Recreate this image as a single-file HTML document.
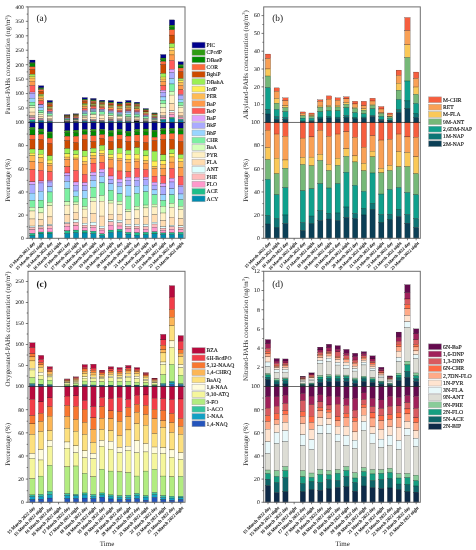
<!DOCTYPE html>
<html><head><meta charset="utf-8"><title>PAHs figure</title>
<style>html,body{margin:0;padding:0;background:#fff}svg{display:block;text-rendering:geometricPrecision}</style></head>
<body>
<svg width="476" height="550" viewBox="0 0 476 550" font-family='"Liberation Serif", serif'>
<rect width="476" height="550" fill="#fff"/>
<g stroke="#000" stroke-width="0.2">
<rect x="29.75" y="122.45" width="5.3" height="4.97" fill="#00008c"/>
<rect x="29.75" y="127.42" width="5.3" height="2.08" fill="#2e9c12"/>
<rect x="29.75" y="129.5" width="5.3" height="5.43" fill="#008a00"/>
<rect x="29.75" y="134.94" width="5.3" height="4.74" fill="#ff6a3a"/>
<rect x="29.75" y="139.68" width="5.3" height="9.37" fill="#cc4a00"/>
<rect x="29.75" y="149.04" width="5.3" height="4.05" fill="#9bef55"/>
<rect x="29.75" y="153.09" width="5.3" height="2.77" fill="#ffee55"/>
<rect x="29.75" y="155.86" width="5.3" height="6.01" fill="#ffbb55"/>
<rect x="29.75" y="161.88" width="5.3" height="7.98" fill="#ff9a4a"/>
<rect x="29.75" y="169.85" width="5.3" height="12.02" fill="#ff5a5a"/>
<rect x="29.75" y="181.88" width="5.3" height="2.66" fill="#dda5ff"/>
<rect x="29.75" y="184.54" width="5.3" height="8.56" fill="#aaaaff"/>
<rect x="29.75" y="193.09" width="5.3" height="7.4" fill="#99d5ff"/>
<rect x="29.75" y="200.49" width="5.3" height="6.82" fill="#7cf0a2"/>
<rect x="29.75" y="207.31" width="5.3" height="3.7" fill="#d5ffbb"/>
<rect x="29.75" y="211.01" width="5.3" height="7.98" fill="#fff0c4"/>
<rect x="29.75" y="218.99" width="5.3" height="7.05" fill="#ffdcb0"/>
<rect x="29.75" y="226.04" width="5.3" height="1.39" fill="#ddffff"/>
<rect x="29.75" y="227.43" width="5.3" height="2.31" fill="#ffbbbb"/>
<rect x="29.75" y="229.74" width="5.3" height="3.7" fill="#ff99cc"/>
<rect x="29.75" y="233.44" width="5.3" height="2.31" fill="#1fbe8a"/>
<rect x="29.75" y="235.76" width="5.3" height="2.54" fill="#008cb0"/>
<rect x="29.75" y="60.05" width="5.3" height="2.68" fill="#00008c"/>
<rect x="29.75" y="62.73" width="5.3" height="1.12" fill="#2e9c12"/>
<rect x="29.75" y="63.85" width="5.3" height="2.93" fill="#008a00"/>
<rect x="29.75" y="66.78" width="5.3" height="2.55" fill="#ff6a3a"/>
<rect x="29.75" y="69.33" width="5.3" height="5.04" fill="#cc4a00"/>
<rect x="29.75" y="74.38" width="5.3" height="2.18" fill="#9bef55"/>
<rect x="29.75" y="76.56" width="5.3" height="1.49" fill="#ffee55"/>
<rect x="29.75" y="78.05" width="5.3" height="3.24" fill="#ffbb55"/>
<rect x="29.75" y="81.29" width="5.3" height="4.3" fill="#ff9a4a"/>
<rect x="29.75" y="85.58" width="5.3" height="6.48" fill="#ff5a5a"/>
<rect x="29.75" y="92.06" width="5.3" height="1.43" fill="#dda5ff"/>
<rect x="29.75" y="93.49" width="5.3" height="4.61" fill="#aaaaff"/>
<rect x="29.75" y="98.1" width="5.3" height="3.99" fill="#99d5ff"/>
<rect x="29.75" y="102.09" width="5.3" height="3.67" fill="#7cf0a2"/>
<rect x="29.75" y="105.76" width="5.3" height="1.99" fill="#d5ffbb"/>
<rect x="29.75" y="107.75" width="5.3" height="4.3" fill="#fff0c4"/>
<rect x="29.75" y="112.05" width="5.3" height="3.8" fill="#ffdcb0"/>
<rect x="29.75" y="115.85" width="5.3" height="0.75" fill="#ddffff"/>
<rect x="29.75" y="116.6" width="5.3" height="1.25" fill="#ffbbbb"/>
<rect x="29.75" y="117.84" width="5.3" height="1.99" fill="#ff99cc"/>
<rect x="29.75" y="119.83" width="5.3" height="1.25" fill="#1fbe8a"/>
<rect x="29.75" y="121.08" width="5.3" height="1.37" fill="#008cb0"/>
<rect x="38.48" y="122.45" width="5.3" height="6.48" fill="#00008c"/>
<rect x="38.48" y="128.93" width="5.3" height="2.66" fill="#2e9c12"/>
<rect x="38.48" y="131.59" width="5.3" height="2.78" fill="#008a00"/>
<rect x="38.48" y="134.37" width="5.3" height="5.21" fill="#ff6a3a"/>
<rect x="38.48" y="139.58" width="5.3" height="10.18" fill="#cc4a00"/>
<rect x="38.48" y="149.76" width="5.3" height="4.51" fill="#9bef55"/>
<rect x="38.48" y="154.28" width="5.3" height="3.59" fill="#ffee55"/>
<rect x="38.48" y="157.86" width="5.3" height="4.75" fill="#ffbb55"/>
<rect x="38.48" y="162.61" width="5.3" height="7.75" fill="#ff9a4a"/>
<rect x="38.48" y="170.36" width="5.3" height="10.65" fill="#ff5a5a"/>
<rect x="38.48" y="181.01" width="5.3" height="1.97" fill="#dda5ff"/>
<rect x="38.48" y="182.98" width="5.3" height="8.33" fill="#aaaaff"/>
<rect x="38.48" y="191.31" width="5.3" height="8.8" fill="#99d5ff"/>
<rect x="38.48" y="200.11" width="5.3" height="7.75" fill="#7cf0a2"/>
<rect x="38.48" y="207.86" width="5.3" height="5.09" fill="#d5ffbb"/>
<rect x="38.48" y="212.95" width="5.3" height="6.83" fill="#fff0c4"/>
<rect x="38.48" y="219.78" width="5.3" height="6.02" fill="#ffdcb0"/>
<rect x="38.48" y="225.8" width="5.3" height="1.16" fill="#ddffff"/>
<rect x="38.48" y="226.96" width="5.3" height="1.97" fill="#ffbbbb"/>
<rect x="38.48" y="228.93" width="5.3" height="3.12" fill="#ff99cc"/>
<rect x="38.48" y="232.05" width="5.3" height="1.85" fill="#1fbe8a"/>
<rect x="38.48" y="233.9" width="5.3" height="4.4" fill="#008cb0"/>
<rect x="38.48" y="85.76" width="5.3" height="2.05" fill="#00008c"/>
<rect x="38.48" y="87.82" width="5.3" height="0.84" fill="#2e9c12"/>
<rect x="38.48" y="88.66" width="5.3" height="0.88" fill="#008a00"/>
<rect x="38.48" y="89.54" width="5.3" height="1.65" fill="#ff6a3a"/>
<rect x="38.48" y="91.19" width="5.3" height="3.23" fill="#cc4a00"/>
<rect x="38.48" y="94.41" width="5.3" height="1.43" fill="#9bef55"/>
<rect x="38.48" y="95.84" width="5.3" height="1.14" fill="#ffee55"/>
<rect x="38.48" y="96.98" width="5.3" height="1.5" fill="#ffbb55"/>
<rect x="38.48" y="98.48" width="5.3" height="2.46" fill="#ff9a4a"/>
<rect x="38.48" y="100.94" width="5.3" height="3.37" fill="#ff5a5a"/>
<rect x="38.48" y="104.31" width="5.3" height="0.62" fill="#dda5ff"/>
<rect x="38.48" y="104.93" width="5.3" height="2.64" fill="#aaaaff"/>
<rect x="38.48" y="107.57" width="5.3" height="2.79" fill="#99d5ff"/>
<rect x="38.48" y="110.36" width="5.3" height="2.46" fill="#7cf0a2"/>
<rect x="38.48" y="112.81" width="5.3" height="1.61" fill="#d5ffbb"/>
<rect x="38.48" y="114.42" width="5.3" height="2.16" fill="#fff0c4"/>
<rect x="38.48" y="116.59" width="5.3" height="1.91" fill="#ffdcb0"/>
<rect x="38.48" y="118.49" width="5.3" height="0.37" fill="#ddffff"/>
<rect x="38.48" y="118.86" width="5.3" height="0.62" fill="#ffbbbb"/>
<rect x="38.48" y="119.48" width="5.3" height="0.99" fill="#ff99cc"/>
<rect x="38.48" y="120.47" width="5.3" height="0.59" fill="#1fbe8a"/>
<rect x="38.48" y="121.06" width="5.3" height="1.39" fill="#008cb0"/>
<rect x="47.2" y="122.45" width="5.3" height="9.4" fill="#00008c"/>
<rect x="47.2" y="131.85" width="5.3" height="2.09" fill="#2e9c12"/>
<rect x="47.2" y="133.94" width="5.3" height="4.18" fill="#008a00"/>
<rect x="47.2" y="138.12" width="5.3" height="5.69" fill="#ff6a3a"/>
<rect x="47.2" y="143.81" width="5.3" height="11.96" fill="#cc4a00"/>
<rect x="47.2" y="155.77" width="5.3" height="4.3" fill="#9bef55"/>
<rect x="47.2" y="160.06" width="5.3" height="3.83" fill="#ffee55"/>
<rect x="47.2" y="163.89" width="5.3" height="1.51" fill="#ffbb55"/>
<rect x="47.2" y="165.4" width="5.3" height="6.5" fill="#ff9a4a"/>
<rect x="47.2" y="171.9" width="5.3" height="8.71" fill="#ff5a5a"/>
<rect x="47.2" y="180.61" width="5.3" height="1.39" fill="#dda5ff"/>
<rect x="47.2" y="182" width="5.3" height="4.88" fill="#aaaaff"/>
<rect x="47.2" y="186.88" width="5.3" height="5.11" fill="#99d5ff"/>
<rect x="47.2" y="191.98" width="5.3" height="10.22" fill="#7cf0a2"/>
<rect x="47.2" y="202.2" width="5.3" height="3.6" fill="#d5ffbb"/>
<rect x="47.2" y="205.8" width="5.3" height="11.14" fill="#fff0c4"/>
<rect x="47.2" y="216.94" width="5.3" height="7.43" fill="#ffdcb0"/>
<rect x="47.2" y="224.37" width="5.3" height="1.51" fill="#ddffff"/>
<rect x="47.2" y="225.88" width="5.3" height="2.32" fill="#ffbbbb"/>
<rect x="47.2" y="228.2" width="5.3" height="3.83" fill="#ff99cc"/>
<rect x="47.2" y="232.03" width="5.3" height="1.86" fill="#1fbe8a"/>
<rect x="47.2" y="233.89" width="5.3" height="4.41" fill="#008cb0"/>
<rect x="47.2" y="100.5" width="5.3" height="1.78" fill="#00008c"/>
<rect x="47.2" y="102.28" width="5.3" height="0.4" fill="#2e9c12"/>
<rect x="47.2" y="102.67" width="5.3" height="0.79" fill="#008a00"/>
<rect x="47.2" y="103.47" width="5.3" height="1.08" fill="#ff6a3a"/>
<rect x="47.2" y="104.54" width="5.3" height="2.27" fill="#cc4a00"/>
<rect x="47.2" y="106.81" width="5.3" height="0.81" fill="#9bef55"/>
<rect x="47.2" y="107.62" width="5.3" height="0.73" fill="#ffee55"/>
<rect x="47.2" y="108.35" width="5.3" height="0.29" fill="#ffbb55"/>
<rect x="47.2" y="108.63" width="5.3" height="1.23" fill="#ff9a4a"/>
<rect x="47.2" y="109.87" width="5.3" height="1.65" fill="#ff5a5a"/>
<rect x="47.2" y="111.52" width="5.3" height="0.26" fill="#dda5ff"/>
<rect x="47.2" y="111.78" width="5.3" height="0.92" fill="#aaaaff"/>
<rect x="47.2" y="112.7" width="5.3" height="0.97" fill="#99d5ff"/>
<rect x="47.2" y="113.67" width="5.3" height="1.94" fill="#7cf0a2"/>
<rect x="47.2" y="115.61" width="5.3" height="0.68" fill="#d5ffbb"/>
<rect x="47.2" y="116.29" width="5.3" height="2.11" fill="#fff0c4"/>
<rect x="47.2" y="118.4" width="5.3" height="1.41" fill="#ffdcb0"/>
<rect x="47.2" y="119.81" width="5.3" height="0.29" fill="#ddffff"/>
<rect x="47.2" y="120.1" width="5.3" height="0.44" fill="#ffbbbb"/>
<rect x="47.2" y="120.54" width="5.3" height="0.73" fill="#ff99cc"/>
<rect x="47.2" y="121.26" width="5.3" height="0.35" fill="#1fbe8a"/>
<rect x="47.2" y="121.61" width="5.3" height="0.84" fill="#008cb0"/>
<rect x="64.65" y="122.45" width="5.3" height="8.22" fill="#00008c"/>
<rect x="64.65" y="130.67" width="5.3" height="2.08" fill="#2e9c12"/>
<rect x="64.65" y="132.75" width="5.3" height="3.59" fill="#008a00"/>
<rect x="64.65" y="136.34" width="5.3" height="4.28" fill="#ff6a3a"/>
<rect x="64.65" y="140.62" width="5.3" height="7.99" fill="#cc4a00"/>
<rect x="64.65" y="148.61" width="5.3" height="5.32" fill="#9bef55"/>
<rect x="64.65" y="153.93" width="5.3" height="3.12" fill="#ffee55"/>
<rect x="64.65" y="157.05" width="5.3" height="2.66" fill="#ffbb55"/>
<rect x="64.65" y="159.72" width="5.3" height="7.18" fill="#ff9a4a"/>
<rect x="64.65" y="166.89" width="5.3" height="6.13" fill="#ff5a5a"/>
<rect x="64.65" y="173.03" width="5.3" height="2.89" fill="#dda5ff"/>
<rect x="64.65" y="175.92" width="5.3" height="5.67" fill="#aaaaff"/>
<rect x="64.65" y="181.59" width="5.3" height="7.06" fill="#99d5ff"/>
<rect x="64.65" y="188.65" width="5.3" height="13.08" fill="#7cf0a2"/>
<rect x="64.65" y="201.73" width="5.3" height="3.36" fill="#d5ffbb"/>
<rect x="64.65" y="205.08" width="5.3" height="9.72" fill="#fff0c4"/>
<rect x="64.65" y="214.81" width="5.3" height="7.41" fill="#ffdcb0"/>
<rect x="64.65" y="222.21" width="5.3" height="1.39" fill="#ddffff"/>
<rect x="64.65" y="223.6" width="5.3" height="2.55" fill="#ffbbbb"/>
<rect x="64.65" y="226.15" width="5.3" height="4.75" fill="#ff99cc"/>
<rect x="64.65" y="230.89" width="5.3" height="2.66" fill="#1fbe8a"/>
<rect x="64.65" y="233.55" width="5.3" height="4.75" fill="#008cb0"/>
<rect x="64.65" y="114.65" width="5.3" height="0.55" fill="#00008c"/>
<rect x="64.65" y="115.2" width="5.3" height="0.14" fill="#2e9c12"/>
<rect x="64.65" y="115.34" width="5.3" height="0.24" fill="#008a00"/>
<rect x="64.65" y="115.59" width="5.3" height="0.29" fill="#ff6a3a"/>
<rect x="64.65" y="115.87" width="5.3" height="0.54" fill="#cc4a00"/>
<rect x="64.65" y="116.41" width="5.3" height="0.36" fill="#9bef55"/>
<rect x="64.65" y="116.77" width="5.3" height="0.21" fill="#ffee55"/>
<rect x="64.65" y="116.98" width="5.3" height="0.18" fill="#ffbb55"/>
<rect x="64.65" y="117.16" width="5.3" height="0.48" fill="#ff9a4a"/>
<rect x="64.65" y="117.64" width="5.3" height="0.41" fill="#ff5a5a"/>
<rect x="64.65" y="118.06" width="5.3" height="0.19" fill="#dda5ff"/>
<rect x="64.65" y="118.25" width="5.3" height="0.38" fill="#aaaaff"/>
<rect x="64.65" y="118.63" width="5.3" height="0.48" fill="#99d5ff"/>
<rect x="64.65" y="119.11" width="5.3" height="0.88" fill="#7cf0a2"/>
<rect x="64.65" y="119.99" width="5.3" height="0.23" fill="#d5ffbb"/>
<rect x="64.65" y="120.21" width="5.3" height="0.65" fill="#fff0c4"/>
<rect x="64.65" y="120.87" width="5.3" height="0.5" fill="#ffdcb0"/>
<rect x="64.65" y="121.37" width="5.3" height="0.09" fill="#ddffff"/>
<rect x="64.65" y="121.46" width="5.3" height="0.17" fill="#ffbbbb"/>
<rect x="64.65" y="121.63" width="5.3" height="0.32" fill="#ff99cc"/>
<rect x="64.65" y="121.95" width="5.3" height="0.18" fill="#1fbe8a"/>
<rect x="64.65" y="122.13" width="5.3" height="0.32" fill="#008cb0"/>
<rect x="73.38" y="122.45" width="5.3" height="7.65" fill="#00008c"/>
<rect x="73.38" y="130.1" width="5.3" height="2.66" fill="#2e9c12"/>
<rect x="73.38" y="132.76" width="5.3" height="3.59" fill="#008a00"/>
<rect x="73.38" y="136.35" width="5.3" height="6.26" fill="#ff6a3a"/>
<rect x="73.38" y="142.61" width="5.3" height="7.65" fill="#cc4a00"/>
<rect x="73.38" y="150.25" width="5.3" height="4.52" fill="#9bef55"/>
<rect x="73.38" y="154.77" width="5.3" height="3.24" fill="#ffee55"/>
<rect x="73.38" y="158.02" width="5.3" height="1.39" fill="#ffbb55"/>
<rect x="73.38" y="159.41" width="5.3" height="11.12" fill="#ff9a4a"/>
<rect x="73.38" y="170.53" width="5.3" height="11.47" fill="#ff5a5a"/>
<rect x="73.38" y="182" width="5.3" height="3.13" fill="#dda5ff"/>
<rect x="73.38" y="185.12" width="5.3" height="5.91" fill="#aaaaff"/>
<rect x="73.38" y="191.03" width="5.3" height="5.33" fill="#99d5ff"/>
<rect x="73.38" y="196.36" width="5.3" height="5.68" fill="#7cf0a2"/>
<rect x="73.38" y="202.04" width="5.3" height="2.66" fill="#d5ffbb"/>
<rect x="73.38" y="204.7" width="5.3" height="7.76" fill="#fff0c4"/>
<rect x="73.38" y="212.47" width="5.3" height="7.41" fill="#ffdcb0"/>
<rect x="73.38" y="219.88" width="5.3" height="2.55" fill="#ddffff"/>
<rect x="73.38" y="222.43" width="5.3" height="3.48" fill="#ffbbbb"/>
<rect x="73.38" y="225.9" width="5.3" height="4.17" fill="#ff99cc"/>
<rect x="73.38" y="230.07" width="5.3" height="2.66" fill="#1fbe8a"/>
<rect x="73.38" y="232.74" width="5.3" height="5.56" fill="#008cb0"/>
<rect x="73.38" y="113.78" width="5.3" height="0.57" fill="#00008c"/>
<rect x="73.38" y="114.36" width="5.3" height="0.2" fill="#2e9c12"/>
<rect x="73.38" y="114.56" width="5.3" height="0.27" fill="#008a00"/>
<rect x="73.38" y="114.82" width="5.3" height="0.47" fill="#ff6a3a"/>
<rect x="73.38" y="115.29" width="5.3" height="0.57" fill="#cc4a00"/>
<rect x="73.38" y="115.86" width="5.3" height="0.34" fill="#9bef55"/>
<rect x="73.38" y="116.2" width="5.3" height="0.24" fill="#ffee55"/>
<rect x="73.38" y="116.44" width="5.3" height="0.1" fill="#ffbb55"/>
<rect x="73.38" y="116.55" width="5.3" height="0.83" fill="#ff9a4a"/>
<rect x="73.38" y="117.38" width="5.3" height="0.86" fill="#ff5a5a"/>
<rect x="73.38" y="118.24" width="5.3" height="0.23" fill="#dda5ff"/>
<rect x="73.38" y="118.47" width="5.3" height="0.44" fill="#aaaaff"/>
<rect x="73.38" y="118.91" width="5.3" height="0.4" fill="#99d5ff"/>
<rect x="73.38" y="119.31" width="5.3" height="0.42" fill="#7cf0a2"/>
<rect x="73.38" y="119.74" width="5.3" height="0.2" fill="#d5ffbb"/>
<rect x="73.38" y="119.94" width="5.3" height="0.58" fill="#fff0c4"/>
<rect x="73.38" y="120.52" width="5.3" height="0.55" fill="#ffdcb0"/>
<rect x="73.38" y="121.07" width="5.3" height="0.19" fill="#ddffff"/>
<rect x="73.38" y="121.26" width="5.3" height="0.26" fill="#ffbbbb"/>
<rect x="73.38" y="121.52" width="5.3" height="0.31" fill="#ff99cc"/>
<rect x="73.38" y="121.83" width="5.3" height="0.2" fill="#1fbe8a"/>
<rect x="73.38" y="122.03" width="5.3" height="0.42" fill="#008cb0"/>
<rect x="82.11" y="122.45" width="5.3" height="7.07" fill="#00008c"/>
<rect x="82.11" y="129.52" width="5.3" height="1.74" fill="#2e9c12"/>
<rect x="82.11" y="131.26" width="5.3" height="3.36" fill="#008a00"/>
<rect x="82.11" y="134.63" width="5.3" height="4.87" fill="#ff6a3a"/>
<rect x="82.11" y="139.5" width="5.3" height="11.36" fill="#cc4a00"/>
<rect x="82.11" y="150.86" width="5.3" height="5.68" fill="#9bef55"/>
<rect x="82.11" y="156.54" width="5.3" height="4.99" fill="#ffee55"/>
<rect x="82.11" y="161.53" width="5.3" height="2.67" fill="#ffbb55"/>
<rect x="82.11" y="164.2" width="5.3" height="10.21" fill="#ff9a4a"/>
<rect x="82.11" y="174.4" width="5.3" height="8.23" fill="#ff5a5a"/>
<rect x="82.11" y="182.64" width="5.3" height="3.02" fill="#dda5ff"/>
<rect x="82.11" y="185.65" width="5.3" height="5.1" fill="#aaaaff"/>
<rect x="82.11" y="190.75" width="5.3" height="7.42" fill="#99d5ff"/>
<rect x="82.11" y="198.18" width="5.3" height="8.35" fill="#7cf0a2"/>
<rect x="82.11" y="206.53" width="5.3" height="2.55" fill="#d5ffbb"/>
<rect x="82.11" y="209.08" width="5.3" height="8.12" fill="#fff0c4"/>
<rect x="82.11" y="217.19" width="5.3" height="6.03" fill="#ffdcb0"/>
<rect x="82.11" y="223.22" width="5.3" height="1.97" fill="#ddffff"/>
<rect x="82.11" y="225.2" width="5.3" height="2.32" fill="#ffbbbb"/>
<rect x="82.11" y="227.52" width="5.3" height="3.13" fill="#ff99cc"/>
<rect x="82.11" y="230.65" width="5.3" height="2.32" fill="#1fbe8a"/>
<rect x="82.11" y="232.97" width="5.3" height="5.33" fill="#008cb0"/>
<rect x="82.11" y="97.61" width="5.3" height="1.52" fill="#00008c"/>
<rect x="82.11" y="99.12" width="5.3" height="0.37" fill="#2e9c12"/>
<rect x="82.11" y="99.5" width="5.3" height="0.72" fill="#008a00"/>
<rect x="82.11" y="100.22" width="5.3" height="1.04" fill="#ff6a3a"/>
<rect x="82.11" y="101.26" width="5.3" height="2.44" fill="#cc4a00"/>
<rect x="82.11" y="103.7" width="5.3" height="1.22" fill="#9bef55"/>
<rect x="82.11" y="104.92" width="5.3" height="1.07" fill="#ffee55"/>
<rect x="82.11" y="105.99" width="5.3" height="0.57" fill="#ffbb55"/>
<rect x="82.11" y="106.56" width="5.3" height="2.19" fill="#ff9a4a"/>
<rect x="82.11" y="108.75" width="5.3" height="1.77" fill="#ff5a5a"/>
<rect x="82.11" y="110.51" width="5.3" height="0.65" fill="#dda5ff"/>
<rect x="82.11" y="111.16" width="5.3" height="1.09" fill="#aaaaff"/>
<rect x="82.11" y="112.25" width="5.3" height="1.59" fill="#99d5ff"/>
<rect x="82.11" y="113.85" width="5.3" height="1.79" fill="#7cf0a2"/>
<rect x="82.11" y="115.64" width="5.3" height="0.55" fill="#d5ffbb"/>
<rect x="82.11" y="116.18" width="5.3" height="1.74" fill="#fff0c4"/>
<rect x="82.11" y="117.92" width="5.3" height="1.29" fill="#ffdcb0"/>
<rect x="82.11" y="119.22" width="5.3" height="0.42" fill="#ddffff"/>
<rect x="82.11" y="119.64" width="5.3" height="0.5" fill="#ffbbbb"/>
<rect x="82.11" y="120.14" width="5.3" height="0.67" fill="#ff99cc"/>
<rect x="82.11" y="120.81" width="5.3" height="0.5" fill="#1fbe8a"/>
<rect x="82.11" y="121.31" width="5.3" height="1.14" fill="#008cb0"/>
<rect x="90.83" y="122.45" width="5.3" height="6.84" fill="#00008c"/>
<rect x="90.83" y="129.29" width="5.3" height="2.55" fill="#2e9c12"/>
<rect x="90.83" y="131.83" width="5.3" height="3.94" fill="#008a00"/>
<rect x="90.83" y="135.77" width="5.3" height="5.68" fill="#ff6a3a"/>
<rect x="90.83" y="141.45" width="5.3" height="6.84" fill="#cc4a00"/>
<rect x="90.83" y="148.28" width="5.3" height="4.52" fill="#9bef55"/>
<rect x="90.83" y="152.8" width="5.3" height="3.13" fill="#ffee55"/>
<rect x="90.83" y="155.93" width="5.3" height="2.66" fill="#ffbb55"/>
<rect x="90.83" y="158.6" width="5.3" height="4.52" fill="#ff9a4a"/>
<rect x="90.83" y="163.11" width="5.3" height="9.15" fill="#ff5a5a"/>
<rect x="90.83" y="172.27" width="5.3" height="3.36" fill="#dda5ff"/>
<rect x="90.83" y="175.63" width="5.3" height="4.98" fill="#aaaaff"/>
<rect x="90.83" y="180.61" width="5.3" height="6.6" fill="#99d5ff"/>
<rect x="90.83" y="187.21" width="5.3" height="10.43" fill="#7cf0a2"/>
<rect x="90.83" y="197.64" width="5.3" height="3.71" fill="#d5ffbb"/>
<rect x="90.83" y="201.34" width="5.3" height="12.28" fill="#fff0c4"/>
<rect x="90.83" y="213.62" width="5.3" height="8.57" fill="#ffdcb0"/>
<rect x="90.83" y="222.2" width="5.3" height="3.01" fill="#ddffff"/>
<rect x="90.83" y="225.21" width="5.3" height="2.09" fill="#ffbbbb"/>
<rect x="90.83" y="227.29" width="5.3" height="3.94" fill="#ff99cc"/>
<rect x="90.83" y="231.23" width="5.3" height="2.32" fill="#1fbe8a"/>
<rect x="90.83" y="233.55" width="5.3" height="4.75" fill="#008cb0"/>
<rect x="90.83" y="98.47" width="5.3" height="1.41" fill="#00008c"/>
<rect x="90.83" y="99.89" width="5.3" height="0.53" fill="#2e9c12"/>
<rect x="90.83" y="100.42" width="5.3" height="0.82" fill="#008a00"/>
<rect x="90.83" y="101.23" width="5.3" height="1.17" fill="#ff6a3a"/>
<rect x="90.83" y="102.41" width="5.3" height="1.41" fill="#cc4a00"/>
<rect x="90.83" y="103.82" width="5.3" height="0.94" fill="#9bef55"/>
<rect x="90.83" y="104.76" width="5.3" height="0.65" fill="#ffee55"/>
<rect x="90.83" y="105.4" width="5.3" height="0.55" fill="#ffbb55"/>
<rect x="90.83" y="105.95" width="5.3" height="0.94" fill="#ff9a4a"/>
<rect x="90.83" y="106.89" width="5.3" height="1.89" fill="#ff5a5a"/>
<rect x="90.83" y="108.78" width="5.3" height="0.7" fill="#dda5ff"/>
<rect x="90.83" y="109.48" width="5.3" height="1.03" fill="#aaaaff"/>
<rect x="90.83" y="110.51" width="5.3" height="1.37" fill="#99d5ff"/>
<rect x="90.83" y="111.88" width="5.3" height="2.16" fill="#7cf0a2"/>
<rect x="90.83" y="114.03" width="5.3" height="0.77" fill="#d5ffbb"/>
<rect x="90.83" y="114.8" width="5.3" height="2.54" fill="#fff0c4"/>
<rect x="90.83" y="117.34" width="5.3" height="1.77" fill="#ffdcb0"/>
<rect x="90.83" y="119.12" width="5.3" height="0.62" fill="#ddffff"/>
<rect x="90.83" y="119.74" width="5.3" height="0.43" fill="#ffbbbb"/>
<rect x="90.83" y="120.17" width="5.3" height="0.82" fill="#ff99cc"/>
<rect x="90.83" y="120.99" width="5.3" height="0.48" fill="#1fbe8a"/>
<rect x="90.83" y="121.47" width="5.3" height="0.98" fill="#008cb0"/>
<rect x="99.56" y="122.45" width="5.3" height="6.84" fill="#00008c"/>
<rect x="99.56" y="129.29" width="5.3" height="1.62" fill="#2e9c12"/>
<rect x="99.56" y="130.91" width="5.3" height="3.71" fill="#008a00"/>
<rect x="99.56" y="134.61" width="5.3" height="4.17" fill="#ff6a3a"/>
<rect x="99.56" y="138.78" width="5.3" height="6.6" fill="#cc4a00"/>
<rect x="99.56" y="145.39" width="5.3" height="4.75" fill="#9bef55"/>
<rect x="99.56" y="150.14" width="5.3" height="3.24" fill="#ffee55"/>
<rect x="99.56" y="153.38" width="5.3" height="2.09" fill="#ffbb55"/>
<rect x="99.56" y="155.47" width="5.3" height="6.84" fill="#ff9a4a"/>
<rect x="99.56" y="162.3" width="5.3" height="6.84" fill="#ff5a5a"/>
<rect x="99.56" y="169.14" width="5.3" height="3.13" fill="#dda5ff"/>
<rect x="99.56" y="172.27" width="5.3" height="4.17" fill="#aaaaff"/>
<rect x="99.56" y="176.44" width="5.3" height="6.49" fill="#99d5ff"/>
<rect x="99.56" y="182.92" width="5.3" height="12.51" fill="#7cf0a2"/>
<rect x="99.56" y="195.44" width="5.3" height="5.68" fill="#d5ffbb"/>
<rect x="99.56" y="201.11" width="5.3" height="14.94" fill="#fff0c4"/>
<rect x="99.56" y="216.06" width="5.3" height="10.08" fill="#ffdcb0"/>
<rect x="99.56" y="226.14" width="5.3" height="2.09" fill="#ddffff"/>
<rect x="99.56" y="228.22" width="5.3" height="1.85" fill="#ffbbbb"/>
<rect x="99.56" y="230.07" width="5.3" height="3.82" fill="#ff99cc"/>
<rect x="99.56" y="233.9" width="5.3" height="1.51" fill="#1fbe8a"/>
<rect x="99.56" y="235.4" width="5.3" height="2.9" fill="#008cb0"/>
<rect x="99.56" y="100.21" width="5.3" height="1.31" fill="#00008c"/>
<rect x="99.56" y="101.52" width="5.3" height="0.31" fill="#2e9c12"/>
<rect x="99.56" y="101.83" width="5.3" height="0.71" fill="#008a00"/>
<rect x="99.56" y="102.54" width="5.3" height="0.8" fill="#ff6a3a"/>
<rect x="99.56" y="103.34" width="5.3" height="1.27" fill="#cc4a00"/>
<rect x="99.56" y="104.61" width="5.3" height="0.91" fill="#9bef55"/>
<rect x="99.56" y="105.52" width="5.3" height="0.62" fill="#ffee55"/>
<rect x="99.56" y="106.15" width="5.3" height="0.4" fill="#ffbb55"/>
<rect x="99.56" y="106.55" width="5.3" height="1.31" fill="#ff9a4a"/>
<rect x="99.56" y="107.86" width="5.3" height="1.31" fill="#ff5a5a"/>
<rect x="99.56" y="109.17" width="5.3" height="0.6" fill="#dda5ff"/>
<rect x="99.56" y="109.77" width="5.3" height="0.8" fill="#aaaaff"/>
<rect x="99.56" y="110.57" width="5.3" height="1.25" fill="#99d5ff"/>
<rect x="99.56" y="111.82" width="5.3" height="2.4" fill="#7cf0a2"/>
<rect x="99.56" y="114.22" width="5.3" height="1.09" fill="#d5ffbb"/>
<rect x="99.56" y="115.31" width="5.3" height="2.87" fill="#fff0c4"/>
<rect x="99.56" y="118.18" width="5.3" height="1.94" fill="#ffdcb0"/>
<rect x="99.56" y="120.11" width="5.3" height="0.4" fill="#ddffff"/>
<rect x="99.56" y="120.51" width="5.3" height="0.36" fill="#ffbbbb"/>
<rect x="99.56" y="120.87" width="5.3" height="0.73" fill="#ff99cc"/>
<rect x="99.56" y="121.6" width="5.3" height="0.29" fill="#1fbe8a"/>
<rect x="99.56" y="121.89" width="5.3" height="0.56" fill="#008cb0"/>
<rect x="108.28" y="122.45" width="5.3" height="8" fill="#00008c"/>
<rect x="108.28" y="130.45" width="5.3" height="1.97" fill="#2e9c12"/>
<rect x="108.28" y="132.42" width="5.3" height="3.94" fill="#008a00"/>
<rect x="108.28" y="136.37" width="5.3" height="5.1" fill="#ff6a3a"/>
<rect x="108.28" y="141.47" width="5.3" height="8.35" fill="#cc4a00"/>
<rect x="108.28" y="149.82" width="5.3" height="4.75" fill="#9bef55"/>
<rect x="108.28" y="154.57" width="5.3" height="3.36" fill="#ffee55"/>
<rect x="108.28" y="157.94" width="5.3" height="1.74" fill="#ffbb55"/>
<rect x="108.28" y="159.68" width="5.3" height="8.35" fill="#ff9a4a"/>
<rect x="108.28" y="168.02" width="5.3" height="8" fill="#ff5a5a"/>
<rect x="108.28" y="176.03" width="5.3" height="3.36" fill="#dda5ff"/>
<rect x="108.28" y="179.39" width="5.3" height="4.52" fill="#aaaaff"/>
<rect x="108.28" y="183.91" width="5.3" height="6.26" fill="#99d5ff"/>
<rect x="108.28" y="190.17" width="5.3" height="10.32" fill="#7cf0a2"/>
<rect x="108.28" y="200.5" width="5.3" height="2.55" fill="#d5ffbb"/>
<rect x="108.28" y="203.05" width="5.3" height="11.13" fill="#fff0c4"/>
<rect x="108.28" y="214.18" width="5.3" height="5.68" fill="#ffdcb0"/>
<rect x="108.28" y="219.86" width="5.3" height="1.97" fill="#ddffff"/>
<rect x="108.28" y="221.83" width="5.3" height="3.36" fill="#ffbbbb"/>
<rect x="108.28" y="225.2" width="5.3" height="4.87" fill="#ff99cc"/>
<rect x="108.28" y="230.07" width="5.3" height="2.32" fill="#1fbe8a"/>
<rect x="108.28" y="232.39" width="5.3" height="5.91" fill="#008cb0"/>
<rect x="108.28" y="100.5" width="5.3" height="1.52" fill="#00008c"/>
<rect x="108.28" y="102.01" width="5.3" height="0.37" fill="#2e9c12"/>
<rect x="108.28" y="102.39" width="5.3" height="0.75" fill="#008a00"/>
<rect x="108.28" y="103.13" width="5.3" height="0.97" fill="#ff6a3a"/>
<rect x="108.28" y="104.1" width="5.3" height="1.58" fill="#cc4a00"/>
<rect x="108.28" y="105.68" width="5.3" height="0.9" fill="#9bef55"/>
<rect x="108.28" y="106.58" width="5.3" height="0.64" fill="#ffee55"/>
<rect x="108.28" y="107.22" width="5.3" height="0.33" fill="#ffbb55"/>
<rect x="108.28" y="107.55" width="5.3" height="1.58" fill="#ff9a4a"/>
<rect x="108.28" y="109.13" width="5.3" height="1.52" fill="#ff5a5a"/>
<rect x="108.28" y="110.65" width="5.3" height="0.64" fill="#dda5ff"/>
<rect x="108.28" y="111.29" width="5.3" height="0.86" fill="#aaaaff"/>
<rect x="108.28" y="112.14" width="5.3" height="1.19" fill="#99d5ff"/>
<rect x="108.28" y="113.33" width="5.3" height="1.96" fill="#7cf0a2"/>
<rect x="108.28" y="115.29" width="5.3" height="0.48" fill="#d5ffbb"/>
<rect x="108.28" y="115.77" width="5.3" height="2.11" fill="#fff0c4"/>
<rect x="108.28" y="117.88" width="5.3" height="1.08" fill="#ffdcb0"/>
<rect x="108.28" y="118.96" width="5.3" height="0.37" fill="#ddffff"/>
<rect x="108.28" y="119.33" width="5.3" height="0.64" fill="#ffbbbb"/>
<rect x="108.28" y="119.97" width="5.3" height="0.92" fill="#ff99cc"/>
<rect x="108.28" y="120.89" width="5.3" height="0.44" fill="#1fbe8a"/>
<rect x="108.28" y="121.33" width="5.3" height="1.12" fill="#008cb0"/>
<rect x="117.01" y="122.45" width="5.3" height="6.9" fill="#00008c"/>
<rect x="117.01" y="129.35" width="5.3" height="2.34" fill="#2e9c12"/>
<rect x="117.01" y="131.69" width="5.3" height="3.16" fill="#008a00"/>
<rect x="117.01" y="134.85" width="5.3" height="4.56" fill="#ff6a3a"/>
<rect x="117.01" y="139.42" width="5.3" height="8.66" fill="#cc4a00"/>
<rect x="117.01" y="148.08" width="5.3" height="5.15" fill="#9bef55"/>
<rect x="117.01" y="153.23" width="5.3" height="4.91" fill="#ffee55"/>
<rect x="117.01" y="158.14" width="5.3" height="2.34" fill="#ffbb55"/>
<rect x="117.01" y="160.48" width="5.3" height="10.53" fill="#ff9a4a"/>
<rect x="117.01" y="171.01" width="5.3" height="8.07" fill="#ff5a5a"/>
<rect x="117.01" y="179.09" width="5.3" height="3.28" fill="#dda5ff"/>
<rect x="117.01" y="182.36" width="5.3" height="3.98" fill="#aaaaff"/>
<rect x="117.01" y="186.34" width="5.3" height="7.49" fill="#99d5ff"/>
<rect x="117.01" y="193.83" width="5.3" height="7.49" fill="#7cf0a2"/>
<rect x="117.01" y="201.32" width="5.3" height="3.39" fill="#d5ffbb"/>
<rect x="117.01" y="204.72" width="5.3" height="9.71" fill="#fff0c4"/>
<rect x="117.01" y="214.43" width="5.3" height="5.73" fill="#ffdcb0"/>
<rect x="117.01" y="220.16" width="5.3" height="2.57" fill="#ddffff"/>
<rect x="117.01" y="222.74" width="5.3" height="3.28" fill="#ffbbbb"/>
<rect x="117.01" y="226.01" width="5.3" height="3.39" fill="#ff99cc"/>
<rect x="117.01" y="229.41" width="5.3" height="2.34" fill="#1fbe8a"/>
<rect x="117.01" y="231.75" width="5.3" height="6.55" fill="#008cb0"/>
<rect x="117.01" y="101.94" width="5.3" height="1.22" fill="#00008c"/>
<rect x="117.01" y="103.16" width="5.3" height="0.41" fill="#2e9c12"/>
<rect x="117.01" y="103.58" width="5.3" height="0.56" fill="#008a00"/>
<rect x="117.01" y="104.14" width="5.3" height="0.81" fill="#ff6a3a"/>
<rect x="117.01" y="104.94" width="5.3" height="1.53" fill="#cc4a00"/>
<rect x="117.01" y="106.48" width="5.3" height="0.91" fill="#9bef55"/>
<rect x="117.01" y="107.39" width="5.3" height="0.87" fill="#ffee55"/>
<rect x="117.01" y="108.26" width="5.3" height="0.41" fill="#ffbb55"/>
<rect x="117.01" y="108.67" width="5.3" height="1.86" fill="#ff9a4a"/>
<rect x="117.01" y="110.54" width="5.3" height="1.43" fill="#ff5a5a"/>
<rect x="117.01" y="111.97" width="5.3" height="0.58" fill="#dda5ff"/>
<rect x="117.01" y="112.55" width="5.3" height="0.7" fill="#aaaaff"/>
<rect x="117.01" y="113.25" width="5.3" height="1.33" fill="#99d5ff"/>
<rect x="117.01" y="114.58" width="5.3" height="1.33" fill="#7cf0a2"/>
<rect x="117.01" y="115.9" width="5.3" height="0.6" fill="#d5ffbb"/>
<rect x="117.01" y="116.5" width="5.3" height="1.72" fill="#fff0c4"/>
<rect x="117.01" y="118.22" width="5.3" height="1.02" fill="#ffdcb0"/>
<rect x="117.01" y="119.24" width="5.3" height="0.46" fill="#ddffff"/>
<rect x="117.01" y="119.69" width="5.3" height="0.58" fill="#ffbbbb"/>
<rect x="117.01" y="120.27" width="5.3" height="0.6" fill="#ff99cc"/>
<rect x="117.01" y="120.88" width="5.3" height="0.41" fill="#1fbe8a"/>
<rect x="117.01" y="121.29" width="5.3" height="1.16" fill="#008cb0"/>
<rect x="125.74" y="122.45" width="5.3" height="8.8" fill="#00008c"/>
<rect x="125.74" y="131.25" width="5.3" height="1.5" fill="#2e9c12"/>
<rect x="125.74" y="132.75" width="5.3" height="3.36" fill="#008a00"/>
<rect x="125.74" y="136.11" width="5.3" height="5.32" fill="#ff6a3a"/>
<rect x="125.74" y="141.43" width="5.3" height="8.8" fill="#cc4a00"/>
<rect x="125.74" y="150.23" width="5.3" height="4.28" fill="#9bef55"/>
<rect x="125.74" y="154.51" width="5.3" height="5.09" fill="#ffee55"/>
<rect x="125.74" y="159.6" width="5.3" height="2.66" fill="#ffbb55"/>
<rect x="125.74" y="162.26" width="5.3" height="9.61" fill="#ff9a4a"/>
<rect x="125.74" y="171.87" width="5.3" height="5.44" fill="#ff5a5a"/>
<rect x="125.74" y="177.31" width="5.3" height="2.89" fill="#dda5ff"/>
<rect x="125.74" y="180.2" width="5.3" height="5.56" fill="#aaaaff"/>
<rect x="125.74" y="185.76" width="5.3" height="10.3" fill="#99d5ff"/>
<rect x="125.74" y="196.06" width="5.3" height="13.08" fill="#7cf0a2"/>
<rect x="125.74" y="209.13" width="5.3" height="2.78" fill="#d5ffbb"/>
<rect x="125.74" y="211.91" width="5.3" height="7.41" fill="#fff0c4"/>
<rect x="125.74" y="219.32" width="5.3" height="5.09" fill="#ffdcb0"/>
<rect x="125.74" y="224.41" width="5.3" height="1.97" fill="#ddffff"/>
<rect x="125.74" y="226.38" width="5.3" height="2.55" fill="#ffbbbb"/>
<rect x="125.74" y="228.93" width="5.3" height="3.47" fill="#ff99cc"/>
<rect x="125.74" y="232.4" width="5.3" height="1.74" fill="#1fbe8a"/>
<rect x="125.74" y="234.13" width="5.3" height="4.17" fill="#008cb0"/>
<rect x="125.74" y="100.5" width="5.3" height="1.67" fill="#00008c"/>
<rect x="125.74" y="102.16" width="5.3" height="0.29" fill="#2e9c12"/>
<rect x="125.74" y="102.45" width="5.3" height="0.64" fill="#008a00"/>
<rect x="125.74" y="103.08" width="5.3" height="1.01" fill="#ff6a3a"/>
<rect x="125.74" y="104.09" width="5.3" height="1.67" fill="#cc4a00"/>
<rect x="125.74" y="105.76" width="5.3" height="0.81" fill="#9bef55"/>
<rect x="125.74" y="106.57" width="5.3" height="0.97" fill="#ffee55"/>
<rect x="125.74" y="107.54" width="5.3" height="0.5" fill="#ffbb55"/>
<rect x="125.74" y="108.04" width="5.3" height="1.82" fill="#ff9a4a"/>
<rect x="125.74" y="109.86" width="5.3" height="1.03" fill="#ff5a5a"/>
<rect x="125.74" y="110.89" width="5.3" height="0.55" fill="#dda5ff"/>
<rect x="125.74" y="111.44" width="5.3" height="1.05" fill="#aaaaff"/>
<rect x="125.74" y="112.49" width="5.3" height="1.95" fill="#99d5ff"/>
<rect x="125.74" y="114.44" width="5.3" height="2.48" fill="#7cf0a2"/>
<rect x="125.74" y="116.92" width="5.3" height="0.53" fill="#d5ffbb"/>
<rect x="125.74" y="117.45" width="5.3" height="1.4" fill="#fff0c4"/>
<rect x="125.74" y="118.85" width="5.3" height="0.97" fill="#ffdcb0"/>
<rect x="125.74" y="119.82" width="5.3" height="0.37" fill="#ddffff"/>
<rect x="125.74" y="120.19" width="5.3" height="0.48" fill="#ffbbbb"/>
<rect x="125.74" y="120.67" width="5.3" height="0.66" fill="#ff99cc"/>
<rect x="125.74" y="121.33" width="5.3" height="0.33" fill="#1fbe8a"/>
<rect x="125.74" y="121.66" width="5.3" height="0.79" fill="#008cb0"/>
<rect x="134.46" y="122.45" width="5.3" height="6.83" fill="#00008c"/>
<rect x="134.46" y="129.28" width="5.3" height="2.31" fill="#2e9c12"/>
<rect x="134.46" y="131.59" width="5.3" height="3.36" fill="#008a00"/>
<rect x="134.46" y="134.95" width="5.3" height="6.48" fill="#ff6a3a"/>
<rect x="134.46" y="141.43" width="5.3" height="6.25" fill="#cc4a00"/>
<rect x="134.46" y="147.68" width="5.3" height="6.6" fill="#9bef55"/>
<rect x="134.46" y="154.28" width="5.3" height="4.75" fill="#ffee55"/>
<rect x="134.46" y="159.02" width="5.3" height="2.08" fill="#ffbb55"/>
<rect x="134.46" y="161.11" width="5.3" height="7.06" fill="#ff9a4a"/>
<rect x="134.46" y="168.17" width="5.3" height="9.14" fill="#ff5a5a"/>
<rect x="134.46" y="177.31" width="5.3" height="2.89" fill="#dda5ff"/>
<rect x="134.46" y="180.2" width="5.3" height="5.9" fill="#aaaaff"/>
<rect x="134.46" y="186.1" width="5.3" height="7.29" fill="#99d5ff"/>
<rect x="134.46" y="193.4" width="5.3" height="12.85" fill="#7cf0a2"/>
<rect x="134.46" y="206.24" width="5.3" height="3.7" fill="#d5ffbb"/>
<rect x="134.46" y="209.95" width="5.3" height="8.8" fill="#fff0c4"/>
<rect x="134.46" y="218.74" width="5.3" height="5.67" fill="#ffdcb0"/>
<rect x="134.46" y="224.41" width="5.3" height="1.74" fill="#ddffff"/>
<rect x="134.46" y="226.15" width="5.3" height="2.78" fill="#ffbbbb"/>
<rect x="134.46" y="228.93" width="5.3" height="3.82" fill="#ff99cc"/>
<rect x="134.46" y="232.74" width="5.3" height="2.43" fill="#1fbe8a"/>
<rect x="134.46" y="235.18" width="5.3" height="3.12" fill="#008cb0"/>
<rect x="134.46" y="102.23" width="5.3" height="1.19" fill="#00008c"/>
<rect x="134.46" y="103.42" width="5.3" height="0.4" fill="#2e9c12"/>
<rect x="134.46" y="103.82" width="5.3" height="0.59" fill="#008a00"/>
<rect x="134.46" y="104.41" width="5.3" height="1.13" fill="#ff6a3a"/>
<rect x="134.46" y="105.54" width="5.3" height="1.09" fill="#cc4a00"/>
<rect x="134.46" y="106.63" width="5.3" height="1.15" fill="#9bef55"/>
<rect x="134.46" y="107.78" width="5.3" height="0.83" fill="#ffee55"/>
<rect x="134.46" y="108.61" width="5.3" height="0.36" fill="#ffbb55"/>
<rect x="134.46" y="108.98" width="5.3" height="1.23" fill="#ff9a4a"/>
<rect x="134.46" y="110.21" width="5.3" height="1.6" fill="#ff5a5a"/>
<rect x="134.46" y="111.8" width="5.3" height="0.51" fill="#dda5ff"/>
<rect x="134.46" y="112.31" width="5.3" height="1.03" fill="#aaaaff"/>
<rect x="134.46" y="113.34" width="5.3" height="1.27" fill="#99d5ff"/>
<rect x="134.46" y="114.61" width="5.3" height="2.24" fill="#7cf0a2"/>
<rect x="134.46" y="116.85" width="5.3" height="0.65" fill="#d5ffbb"/>
<rect x="134.46" y="117.5" width="5.3" height="1.54" fill="#fff0c4"/>
<rect x="134.46" y="119.04" width="5.3" height="0.99" fill="#ffdcb0"/>
<rect x="134.46" y="120.03" width="5.3" height="0.3" fill="#ddffff"/>
<rect x="134.46" y="120.33" width="5.3" height="0.48" fill="#ffbbbb"/>
<rect x="134.46" y="120.81" width="5.3" height="0.67" fill="#ff99cc"/>
<rect x="134.46" y="121.48" width="5.3" height="0.42" fill="#1fbe8a"/>
<rect x="134.46" y="121.9" width="5.3" height="0.55" fill="#008cb0"/>
<rect x="143.19" y="122.45" width="5.3" height="6.49" fill="#00008c"/>
<rect x="143.19" y="128.94" width="5.3" height="2.66" fill="#2e9c12"/>
<rect x="143.19" y="131.6" width="5.3" height="3.59" fill="#008a00"/>
<rect x="143.19" y="135.19" width="5.3" height="7.41" fill="#ff6a3a"/>
<rect x="143.19" y="142.61" width="5.3" height="7.65" fill="#cc4a00"/>
<rect x="143.19" y="150.25" width="5.3" height="5.68" fill="#9bef55"/>
<rect x="143.19" y="155.93" width="5.3" height="4.87" fill="#ffee55"/>
<rect x="143.19" y="160.8" width="5.3" height="2.32" fill="#ffbb55"/>
<rect x="143.19" y="163.11" width="5.3" height="6.49" fill="#ff9a4a"/>
<rect x="143.19" y="169.6" width="5.3" height="7.53" fill="#ff5a5a"/>
<rect x="143.19" y="177.13" width="5.3" height="2.55" fill="#dda5ff"/>
<rect x="143.19" y="179.68" width="5.3" height="5.44" fill="#aaaaff"/>
<rect x="143.19" y="185.12" width="5.3" height="6.6" fill="#99d5ff"/>
<rect x="143.19" y="191.73" width="5.3" height="13.32" fill="#7cf0a2"/>
<rect x="143.19" y="205.05" width="5.3" height="2.9" fill="#d5ffbb"/>
<rect x="143.19" y="207.95" width="5.3" height="8.8" fill="#fff0c4"/>
<rect x="143.19" y="216.75" width="5.3" height="7.65" fill="#ffdcb0"/>
<rect x="143.19" y="224.4" width="5.3" height="2.32" fill="#ddffff"/>
<rect x="143.19" y="226.72" width="5.3" height="2.55" fill="#ffbbbb"/>
<rect x="143.19" y="229.26" width="5.3" height="3.13" fill="#ff99cc"/>
<rect x="143.19" y="232.39" width="5.3" height="2.32" fill="#1fbe8a"/>
<rect x="143.19" y="234.71" width="5.3" height="3.59" fill="#008cb0"/>
<rect x="143.19" y="108.58" width="5.3" height="0.78" fill="#00008c"/>
<rect x="143.19" y="109.36" width="5.3" height="0.32" fill="#2e9c12"/>
<rect x="143.19" y="109.68" width="5.3" height="0.43" fill="#008a00"/>
<rect x="143.19" y="110.11" width="5.3" height="0.89" fill="#ff6a3a"/>
<rect x="143.19" y="111" width="5.3" height="0.92" fill="#cc4a00"/>
<rect x="143.19" y="111.91" width="5.3" height="0.68" fill="#9bef55"/>
<rect x="143.19" y="112.59" width="5.3" height="0.58" fill="#ffee55"/>
<rect x="143.19" y="113.17" width="5.3" height="0.28" fill="#ffbb55"/>
<rect x="143.19" y="113.45" width="5.3" height="0.78" fill="#ff9a4a"/>
<rect x="143.19" y="114.23" width="5.3" height="0.9" fill="#ff5a5a"/>
<rect x="143.19" y="115.13" width="5.3" height="0.31" fill="#dda5ff"/>
<rect x="143.19" y="115.43" width="5.3" height="0.65" fill="#aaaaff"/>
<rect x="143.19" y="116.09" width="5.3" height="0.79" fill="#99d5ff"/>
<rect x="143.19" y="116.88" width="5.3" height="1.59" fill="#7cf0a2"/>
<rect x="143.19" y="118.47" width="5.3" height="0.35" fill="#d5ffbb"/>
<rect x="143.19" y="118.82" width="5.3" height="1.05" fill="#fff0c4"/>
<rect x="143.19" y="119.87" width="5.3" height="0.92" fill="#ffdcb0"/>
<rect x="143.19" y="120.79" width="5.3" height="0.28" fill="#ddffff"/>
<rect x="143.19" y="121.06" width="5.3" height="0.31" fill="#ffbbbb"/>
<rect x="143.19" y="121.37" width="5.3" height="0.37" fill="#ff99cc"/>
<rect x="143.19" y="121.74" width="5.3" height="0.28" fill="#1fbe8a"/>
<rect x="143.19" y="122.02" width="5.3" height="0.43" fill="#008cb0"/>
<rect x="151.91" y="122.45" width="5.3" height="7.65" fill="#00008c"/>
<rect x="151.91" y="130.1" width="5.3" height="1.74" fill="#2e9c12"/>
<rect x="151.91" y="131.84" width="5.3" height="5.45" fill="#008a00"/>
<rect x="151.91" y="137.29" width="5.3" height="3.36" fill="#ff6a3a"/>
<rect x="151.91" y="140.66" width="5.3" height="10.67" fill="#cc4a00"/>
<rect x="151.91" y="151.33" width="5.3" height="9.74" fill="#9bef55"/>
<rect x="151.91" y="161.07" width="5.3" height="5.68" fill="#ffee55"/>
<rect x="151.91" y="166.75" width="5.3" height="1.97" fill="#ffbb55"/>
<rect x="151.91" y="168.72" width="5.3" height="7.42" fill="#ff9a4a"/>
<rect x="151.91" y="176.14" width="5.3" height="6.15" fill="#ff5a5a"/>
<rect x="151.91" y="182.29" width="5.3" height="2.78" fill="#dda5ff"/>
<rect x="151.91" y="185.07" width="5.3" height="4.87" fill="#aaaaff"/>
<rect x="151.91" y="189.94" width="5.3" height="4.87" fill="#99d5ff"/>
<rect x="151.91" y="194.81" width="5.3" height="9.39" fill="#7cf0a2"/>
<rect x="151.91" y="204.21" width="5.3" height="2.78" fill="#d5ffbb"/>
<rect x="151.91" y="206.99" width="5.3" height="7.77" fill="#fff0c4"/>
<rect x="151.91" y="214.76" width="5.3" height="7.42" fill="#ffdcb0"/>
<rect x="151.91" y="222.18" width="5.3" height="1.86" fill="#ddffff"/>
<rect x="151.91" y="224.04" width="5.3" height="3.25" fill="#ffbbbb"/>
<rect x="151.91" y="227.28" width="5.3" height="4.52" fill="#ff99cc"/>
<rect x="151.91" y="231.81" width="5.3" height="2.09" fill="#1fbe8a"/>
<rect x="151.91" y="233.89" width="5.3" height="4.41" fill="#008cb0"/>
<rect x="151.91" y="112.92" width="5.3" height="0.63" fill="#00008c"/>
<rect x="151.91" y="113.55" width="5.3" height="0.14" fill="#2e9c12"/>
<rect x="151.91" y="113.69" width="5.3" height="0.45" fill="#008a00"/>
<rect x="151.91" y="114.14" width="5.3" height="0.28" fill="#ff6a3a"/>
<rect x="151.91" y="114.42" width="5.3" height="0.88" fill="#cc4a00"/>
<rect x="151.91" y="115.29" width="5.3" height="0.8" fill="#9bef55"/>
<rect x="151.91" y="116.09" width="5.3" height="0.47" fill="#ffee55"/>
<rect x="151.91" y="116.56" width="5.3" height="0.16" fill="#ffbb55"/>
<rect x="151.91" y="116.72" width="5.3" height="0.61" fill="#ff9a4a"/>
<rect x="151.91" y="117.34" width="5.3" height="0.51" fill="#ff5a5a"/>
<rect x="151.91" y="117.84" width="5.3" height="0.23" fill="#dda5ff"/>
<rect x="151.91" y="118.07" width="5.3" height="0.4" fill="#aaaaff"/>
<rect x="151.91" y="118.47" width="5.3" height="0.4" fill="#99d5ff"/>
<rect x="151.91" y="118.87" width="5.3" height="0.77" fill="#7cf0a2"/>
<rect x="151.91" y="119.64" width="5.3" height="0.23" fill="#d5ffbb"/>
<rect x="151.91" y="119.87" width="5.3" height="0.64" fill="#fff0c4"/>
<rect x="151.91" y="120.51" width="5.3" height="0.61" fill="#ffdcb0"/>
<rect x="151.91" y="121.12" width="5.3" height="0.15" fill="#ddffff"/>
<rect x="151.91" y="121.28" width="5.3" height="0.27" fill="#ffbbbb"/>
<rect x="151.91" y="121.54" width="5.3" height="0.37" fill="#ff99cc"/>
<rect x="151.91" y="121.92" width="5.3" height="0.17" fill="#1fbe8a"/>
<rect x="151.91" y="122.09" width="5.3" height="0.36" fill="#008cb0"/>
<rect x="160.64" y="122.45" width="5.3" height="5.91" fill="#00008c"/>
<rect x="160.64" y="128.36" width="5.3" height="2.55" fill="#2e9c12"/>
<rect x="160.64" y="130.92" width="5.3" height="3.36" fill="#008a00"/>
<rect x="160.64" y="134.28" width="5.3" height="5.22" fill="#ff6a3a"/>
<rect x="160.64" y="139.5" width="5.3" height="15.31" fill="#cc4a00"/>
<rect x="160.64" y="154.8" width="5.3" height="6.03" fill="#9bef55"/>
<rect x="160.64" y="160.83" width="5.3" height="3.36" fill="#ffee55"/>
<rect x="160.64" y="164.2" width="5.3" height="4.52" fill="#ffbb55"/>
<rect x="160.64" y="168.72" width="5.3" height="7.19" fill="#ff9a4a"/>
<rect x="160.64" y="175.91" width="5.3" height="7.54" fill="#ff5a5a"/>
<rect x="160.64" y="183.45" width="5.3" height="3.36" fill="#dda5ff"/>
<rect x="160.64" y="186.81" width="5.3" height="8" fill="#aaaaff"/>
<rect x="160.64" y="194.81" width="5.3" height="5.68" fill="#99d5ff"/>
<rect x="160.64" y="200.5" width="5.3" height="5.68" fill="#7cf0a2"/>
<rect x="160.64" y="206.18" width="5.3" height="6.84" fill="#d5ffbb"/>
<rect x="160.64" y="213.02" width="5.3" height="7.65" fill="#fff0c4"/>
<rect x="160.64" y="220.67" width="5.3" height="6.03" fill="#ffdcb0"/>
<rect x="160.64" y="226.7" width="5.3" height="1.51" fill="#ddffff"/>
<rect x="160.64" y="228.21" width="5.3" height="2.2" fill="#ffbbbb"/>
<rect x="160.64" y="230.41" width="5.3" height="2.55" fill="#ff99cc"/>
<rect x="160.64" y="232.97" width="5.3" height="1.39" fill="#1fbe8a"/>
<rect x="160.64" y="234.36" width="5.3" height="3.94" fill="#008cb0"/>
<rect x="160.64" y="54.56" width="5.3" height="3.47" fill="#00008c"/>
<rect x="160.64" y="58.03" width="5.3" height="1.49" fill="#2e9c12"/>
<rect x="160.64" y="59.52" width="5.3" height="1.97" fill="#008a00"/>
<rect x="160.64" y="61.5" width="5.3" height="3.06" fill="#ff6a3a"/>
<rect x="160.64" y="64.55" width="5.3" height="8.97" fill="#cc4a00"/>
<rect x="160.64" y="73.52" width="5.3" height="3.53" fill="#9bef55"/>
<rect x="160.64" y="77.06" width="5.3" height="1.97" fill="#ffee55"/>
<rect x="160.64" y="79.03" width="5.3" height="2.65" fill="#ffbb55"/>
<rect x="160.64" y="81.68" width="5.3" height="4.21" fill="#ff9a4a"/>
<rect x="160.64" y="85.89" width="5.3" height="4.42" fill="#ff5a5a"/>
<rect x="160.64" y="90.31" width="5.3" height="1.97" fill="#dda5ff"/>
<rect x="160.64" y="92.28" width="5.3" height="4.69" fill="#aaaaff"/>
<rect x="160.64" y="96.97" width="5.3" height="3.33" fill="#99d5ff"/>
<rect x="160.64" y="100.3" width="5.3" height="3.33" fill="#7cf0a2"/>
<rect x="160.64" y="103.63" width="5.3" height="4.01" fill="#d5ffbb"/>
<rect x="160.64" y="107.64" width="5.3" height="4.48" fill="#fff0c4"/>
<rect x="160.64" y="112.12" width="5.3" height="3.53" fill="#ffdcb0"/>
<rect x="160.64" y="115.65" width="5.3" height="0.88" fill="#ddffff"/>
<rect x="160.64" y="116.54" width="5.3" height="1.29" fill="#ffbbbb"/>
<rect x="160.64" y="117.83" width="5.3" height="1.49" fill="#ff99cc"/>
<rect x="160.64" y="119.32" width="5.3" height="0.82" fill="#1fbe8a"/>
<rect x="160.64" y="120.14" width="5.3" height="2.31" fill="#008cb0"/>
<rect x="169.37" y="122.45" width="5.3" height="5.91" fill="#00008c"/>
<rect x="169.37" y="128.36" width="5.3" height="2.32" fill="#2e9c12"/>
<rect x="169.37" y="130.68" width="5.3" height="2.9" fill="#008a00"/>
<rect x="169.37" y="133.57" width="5.3" height="6.02" fill="#ff6a3a"/>
<rect x="169.37" y="139.6" width="5.3" height="9.62" fill="#cc4a00"/>
<rect x="169.37" y="149.21" width="5.3" height="4.52" fill="#9bef55"/>
<rect x="169.37" y="153.73" width="5.3" height="3.24" fill="#ffee55"/>
<rect x="169.37" y="156.97" width="5.3" height="5.1" fill="#ffbb55"/>
<rect x="169.37" y="162.07" width="5.3" height="6.26" fill="#ff9a4a"/>
<rect x="169.37" y="168.33" width="5.3" height="9.96" fill="#ff5a5a"/>
<rect x="169.37" y="178.29" width="5.3" height="3.71" fill="#dda5ff"/>
<rect x="169.37" y="182" width="5.3" height="6.84" fill="#aaaaff"/>
<rect x="169.37" y="188.83" width="5.3" height="6.02" fill="#99d5ff"/>
<rect x="169.37" y="194.86" width="5.3" height="8.46" fill="#7cf0a2"/>
<rect x="169.37" y="203.31" width="5.3" height="4.05" fill="#d5ffbb"/>
<rect x="169.37" y="207.37" width="5.3" height="9.85" fill="#fff0c4"/>
<rect x="169.37" y="217.22" width="5.3" height="7.99" fill="#ffdcb0"/>
<rect x="169.37" y="225.21" width="5.3" height="1.51" fill="#ddffff"/>
<rect x="169.37" y="226.72" width="5.3" height="2.55" fill="#ffbbbb"/>
<rect x="169.37" y="229.26" width="5.3" height="3.48" fill="#ff99cc"/>
<rect x="169.37" y="232.74" width="5.3" height="1.62" fill="#1fbe8a"/>
<rect x="169.37" y="234.36" width="5.3" height="3.94" fill="#008cb0"/>
<rect x="169.37" y="19.9" width="5.3" height="5.23" fill="#00008c"/>
<rect x="169.37" y="25.13" width="5.3" height="2.05" fill="#2e9c12"/>
<rect x="169.37" y="27.18" width="5.3" height="2.56" fill="#008a00"/>
<rect x="169.37" y="29.74" width="5.3" height="5.33" fill="#ff6a3a"/>
<rect x="169.37" y="35.08" width="5.3" height="8.51" fill="#cc4a00"/>
<rect x="169.37" y="43.59" width="5.3" height="4" fill="#9bef55"/>
<rect x="169.37" y="47.59" width="5.3" height="2.87" fill="#ffee55"/>
<rect x="169.37" y="50.46" width="5.3" height="4.51" fill="#ffbb55"/>
<rect x="169.37" y="54.97" width="5.3" height="5.54" fill="#ff9a4a"/>
<rect x="169.37" y="60.51" width="5.3" height="8.82" fill="#ff5a5a"/>
<rect x="169.37" y="69.33" width="5.3" height="3.28" fill="#dda5ff"/>
<rect x="169.37" y="72.61" width="5.3" height="6.05" fill="#aaaaff"/>
<rect x="169.37" y="78.66" width="5.3" height="5.33" fill="#99d5ff"/>
<rect x="169.37" y="83.99" width="5.3" height="7.49" fill="#7cf0a2"/>
<rect x="169.37" y="91.48" width="5.3" height="3.59" fill="#d5ffbb"/>
<rect x="169.37" y="95.07" width="5.3" height="8.72" fill="#fff0c4"/>
<rect x="169.37" y="103.79" width="5.3" height="7.08" fill="#ffdcb0"/>
<rect x="169.37" y="110.86" width="5.3" height="1.33" fill="#ddffff"/>
<rect x="169.37" y="112.19" width="5.3" height="2.26" fill="#ffbbbb"/>
<rect x="169.37" y="114.45" width="5.3" height="3.08" fill="#ff99cc"/>
<rect x="169.37" y="117.53" width="5.3" height="1.44" fill="#1fbe8a"/>
<rect x="169.37" y="118.96" width="5.3" height="3.49" fill="#008cb0"/>
<rect x="178.09" y="122.45" width="5.3" height="5.68" fill="#00008c"/>
<rect x="178.09" y="128.13" width="5.3" height="2.78" fill="#2e9c12"/>
<rect x="178.09" y="130.92" width="5.3" height="3.36" fill="#008a00"/>
<rect x="178.09" y="134.28" width="5.3" height="7.19" fill="#ff6a3a"/>
<rect x="178.09" y="141.47" width="5.3" height="13.1" fill="#cc4a00"/>
<rect x="178.09" y="154.57" width="5.3" height="3.59" fill="#9bef55"/>
<rect x="178.09" y="158.17" width="5.3" height="3.36" fill="#ffee55"/>
<rect x="178.09" y="161.53" width="5.3" height="6.38" fill="#ffbb55"/>
<rect x="178.09" y="167.91" width="5.3" height="8.23" fill="#ff9a4a"/>
<rect x="178.09" y="176.14" width="5.3" height="8.93" fill="#ff5a5a"/>
<rect x="178.09" y="185.07" width="5.3" height="1.39" fill="#dda5ff"/>
<rect x="178.09" y="186.46" width="5.3" height="7.54" fill="#aaaaff"/>
<rect x="178.09" y="194" width="5.3" height="5.68" fill="#99d5ff"/>
<rect x="178.09" y="199.68" width="5.3" height="6.49" fill="#7cf0a2"/>
<rect x="178.09" y="206.18" width="5.3" height="3.36" fill="#d5ffbb"/>
<rect x="178.09" y="209.54" width="5.3" height="9.16" fill="#fff0c4"/>
<rect x="178.09" y="218.7" width="5.3" height="7.19" fill="#ffdcb0"/>
<rect x="178.09" y="225.89" width="5.3" height="1.39" fill="#ddffff"/>
<rect x="178.09" y="227.28" width="5.3" height="2.44" fill="#ffbbbb"/>
<rect x="178.09" y="229.72" width="5.3" height="2.67" fill="#ff99cc"/>
<rect x="178.09" y="232.39" width="5.3" height="1.97" fill="#1fbe8a"/>
<rect x="178.09" y="234.36" width="5.3" height="3.94" fill="#008cb0"/>
<rect x="178.09" y="61.79" width="5.3" height="2.98" fill="#00008c"/>
<rect x="178.09" y="64.76" width="5.3" height="1.46" fill="#2e9c12"/>
<rect x="178.09" y="66.22" width="5.3" height="1.76" fill="#008a00"/>
<rect x="178.09" y="67.98" width="5.3" height="3.76" fill="#ff6a3a"/>
<rect x="178.09" y="71.75" width="5.3" height="6.86" fill="#cc4a00"/>
<rect x="178.09" y="78.61" width="5.3" height="1.88" fill="#9bef55"/>
<rect x="178.09" y="80.49" width="5.3" height="1.76" fill="#ffee55"/>
<rect x="178.09" y="82.25" width="5.3" height="3.34" fill="#ffbb55"/>
<rect x="178.09" y="85.59" width="5.3" height="4.31" fill="#ff9a4a"/>
<rect x="178.09" y="89.9" width="5.3" height="4.68" fill="#ff5a5a"/>
<rect x="178.09" y="94.58" width="5.3" height="0.73" fill="#dda5ff"/>
<rect x="178.09" y="95.31" width="5.3" height="3.95" fill="#aaaaff"/>
<rect x="178.09" y="99.25" width="5.3" height="2.98" fill="#99d5ff"/>
<rect x="178.09" y="102.23" width="5.3" height="3.4" fill="#7cf0a2"/>
<rect x="178.09" y="105.63" width="5.3" height="1.76" fill="#d5ffbb"/>
<rect x="178.09" y="107.39" width="5.3" height="4.8" fill="#fff0c4"/>
<rect x="178.09" y="112.19" width="5.3" height="3.76" fill="#ffdcb0"/>
<rect x="178.09" y="115.95" width="5.3" height="0.73" fill="#ddffff"/>
<rect x="178.09" y="116.68" width="5.3" height="1.28" fill="#ffbbbb"/>
<rect x="178.09" y="117.96" width="5.3" height="1.4" fill="#ff99cc"/>
<rect x="178.09" y="119.35" width="5.3" height="1.03" fill="#1fbe8a"/>
<rect x="178.09" y="120.39" width="5.3" height="2.06" fill="#008cb0"/>
</g>
<rect x="28" y="6.9" width="157" height="231.4" fill="none" stroke="#6e6e6e" stroke-width="1"/>
<line x1="28" y1="122.45" x2="185" y2="122.45" stroke="#181818" stroke-width="0.65"/>
<path d="M25.8 108.01H28 M25.8 93.56H28 M25.8 79.12H28 M25.8 64.68H28 M25.8 50.23H28 M25.8 35.79H28 M25.8 21.34H28 M25.8 6.9H28 M26.7 115.23H28 M26.7 100.78H28 M26.7 86.34H28 M26.7 71.9H28 M26.7 57.45H28 M26.7 43.01H28 M26.7 28.57H28 M26.7 14.12H28 M25.8 238.3H28 M25.8 215.13H28 M25.8 191.96H28 M25.8 168.79H28 M25.8 145.62H28 M26.7 226.72H28 M26.7 203.55H28 M26.7 180.38H28 M26.7 157.21H28 M26.7 134.03H28 M32.4 238.3v2 M41.13 238.3v2 M49.85 238.3v2 M58.58 238.3v2 M67.3 238.3v2 M76.03 238.3v2 M84.76 238.3v2 M93.48 238.3v2 M102.21 238.3v2 M110.93 238.3v2 M119.66 238.3v2 M128.39 238.3v2 M137.11 238.3v2 M145.84 238.3v2 M154.56 238.3v2 M163.29 238.3v2 M172.02 238.3v2 M180.74 238.3v2" stroke="#444" stroke-width="0.7" fill="none"/>
<g font-size="5.45" text-anchor="end" fill="#222" stroke="#222" stroke-width="0.05">
<text x="23.6" y="109.86">50</text>
<text x="23.6" y="95.41">100</text>
<text x="23.6" y="80.97">150</text>
<text x="23.6" y="66.53">200</text>
<text x="23.6" y="52.08">250</text>
<text x="23.6" y="37.64">300</text>
<text x="23.6" y="23.19">350</text>
<text x="23.6" y="8.75">400</text>
<text x="23.6" y="240.15">0</text>
<text x="23.6" y="216.98">20</text>
<text x="23.6" y="193.81">40</text>
<text x="23.6" y="170.64">60</text>
<text x="23.6" y="147.47">80</text>
<text x="23.6" y="124.3">100</text>
</g>
<text transform="translate(10 64.67) rotate(-90)" font-size="7" text-anchor="middle" fill="#2a2a2a">Parent-PAHs concentration (ng/m<tspan font-size="4.5" dy="-2.4">3</tspan><tspan dy="2.4">)</tspan></text>
<text transform="translate(10 180.38) rotate(-90)" font-size="7" text-anchor="middle" fill="#2a2a2a">Percentage (%)</text>
<text x="36.5" y="20.7" font-size="9.3" fill="#111">(a)</text>
<g font-size="4.3" font-weight="bold" text-anchor="end" fill="#151515" stroke="#151515" stroke-width="0.05">
<text transform="translate(35.4 243.4) rotate(-45)">15 March 2022 day</text>
<text transform="translate(44.13 243.4) rotate(-45)">15 March 2022 night</text>
<text transform="translate(52.85 243.4) rotate(-45)">16 March 2022 day</text>
<text transform="translate(61.58 243.4) rotate(-45)">16 March 2022 night</text>
<text transform="translate(70.3 243.4) rotate(-45)">17 March 2022 day</text>
<text transform="translate(79.03 243.4) rotate(-45)">17 March 2022 night</text>
<text transform="translate(87.76 243.4) rotate(-45)">18 March 2022 day</text>
<text transform="translate(96.48 243.4) rotate(-45)">18 March 2022 night</text>
<text transform="translate(105.21 243.4) rotate(-45)">19 March 2022 day</text>
<text transform="translate(113.93 243.4) rotate(-45)">19 March 2022 night</text>
<text transform="translate(122.66 243.4) rotate(-45)">20 March 2022 day</text>
<text transform="translate(131.39 243.4) rotate(-45)">20 March 2022 night</text>
<text transform="translate(140.11 243.4) rotate(-45)">21 March 2022 day</text>
<text transform="translate(148.84 243.4) rotate(-45)">21 March 2022 night</text>
<text transform="translate(157.56 243.4) rotate(-45)">22 March 2022 day</text>
<text transform="translate(166.29 243.4) rotate(-45)">22 March 2022 night</text>
<text transform="translate(175.02 243.4) rotate(-45)">23 March 2022 day</text>
<text transform="translate(183.74 243.4) rotate(-45)">23 March 2022 night</text>
</g>
<g font-size="5.6" fill="#111">
<rect x="192" y="42.15" width="13.1" height="5.9" fill="#00008c" stroke="#a8a8a8" stroke-width="0.5"/>
<text x="206.6" y="46.95" stroke="#111" stroke-width="0.12">PIC</text>
<rect x="192" y="49.47" width="13.1" height="5.9" fill="#2e9c12" stroke="#a8a8a8" stroke-width="0.5"/>
<text x="206.6" y="54.27" stroke="#111" stroke-width="0.12">CPcdP</text>
<rect x="192" y="56.79" width="13.1" height="5.9" fill="#008a00" stroke="#a8a8a8" stroke-width="0.5"/>
<text x="206.6" y="61.59" stroke="#111" stroke-width="0.12">DBaeP</text>
<rect x="192" y="64.11" width="13.1" height="5.9" fill="#ff6a3a" stroke="#a8a8a8" stroke-width="0.5"/>
<text x="206.6" y="68.91" stroke="#111" stroke-width="0.12">COR</text>
<rect x="192" y="71.43" width="13.1" height="5.9" fill="#cc4a00" stroke="#a8a8a8" stroke-width="0.5"/>
<text x="206.6" y="76.23" stroke="#111" stroke-width="0.12">BghiP</text>
<rect x="192" y="78.75" width="13.1" height="5.9" fill="#9bef55" stroke="#a8a8a8" stroke-width="0.5"/>
<text x="206.6" y="83.55" stroke="#111" stroke-width="0.12">DBahA</text>
<rect x="192" y="86.07" width="13.1" height="5.9" fill="#ffee55" stroke="#a8a8a8" stroke-width="0.5"/>
<text x="206.6" y="90.87" stroke="#111" stroke-width="0.12">IcdP</text>
<rect x="192" y="93.39" width="13.1" height="5.9" fill="#ffbb55" stroke="#a8a8a8" stroke-width="0.5"/>
<text x="206.6" y="98.19" stroke="#111" stroke-width="0.12">PER</text>
<rect x="192" y="100.71" width="13.1" height="5.9" fill="#ff9a4a" stroke="#a8a8a8" stroke-width="0.5"/>
<text x="206.6" y="105.51" stroke="#111" stroke-width="0.12">BaP</text>
<rect x="192" y="108.03" width="13.1" height="5.9" fill="#ff5a5a" stroke="#a8a8a8" stroke-width="0.5"/>
<text x="206.6" y="112.83" stroke="#111" stroke-width="0.12">BeP</text>
<rect x="192" y="115.35" width="13.1" height="5.9" fill="#dda5ff" stroke="#a8a8a8" stroke-width="0.5"/>
<text x="206.6" y="120.15" stroke="#111" stroke-width="0.12">BaF</text>
<rect x="192" y="122.67" width="13.1" height="5.9" fill="#aaaaff" stroke="#a8a8a8" stroke-width="0.5"/>
<text x="206.6" y="127.47" stroke="#111" stroke-width="0.12">BkF</text>
<rect x="192" y="129.99" width="13.1" height="5.9" fill="#99d5ff" stroke="#a8a8a8" stroke-width="0.5"/>
<text x="206.6" y="134.79" stroke="#111" stroke-width="0.12">BbF</text>
<rect x="192" y="137.31" width="13.1" height="5.9" fill="#7cf0a2" stroke="#a8a8a8" stroke-width="0.5"/>
<text x="206.6" y="142.11" stroke="#111" stroke-width="0.12">CHR</text>
<rect x="192" y="144.63" width="13.1" height="5.9" fill="#d5ffbb" stroke="#a8a8a8" stroke-width="0.5"/>
<text x="206.6" y="149.43" stroke="#111" stroke-width="0.12">BaA</text>
<rect x="192" y="151.95" width="13.1" height="5.9" fill="#fff0c4" stroke="#a8a8a8" stroke-width="0.5"/>
<text x="206.6" y="156.75" stroke="#111" stroke-width="0.12">PYR</text>
<rect x="192" y="159.27" width="13.1" height="5.9" fill="#ffdcb0" stroke="#a8a8a8" stroke-width="0.5"/>
<text x="206.6" y="164.07" stroke="#111" stroke-width="0.12">FLA</text>
<rect x="192" y="166.59" width="13.1" height="5.9" fill="#ddffff" stroke="#a8a8a8" stroke-width="0.5"/>
<text x="206.6" y="171.39" stroke="#111" stroke-width="0.12">ANT</text>
<rect x="192" y="173.91" width="13.1" height="5.9" fill="#ffbbbb" stroke="#a8a8a8" stroke-width="0.5"/>
<text x="206.6" y="178.71" stroke="#111" stroke-width="0.12">PHE</text>
<rect x="192" y="181.23" width="13.1" height="5.9" fill="#ff99cc" stroke="#a8a8a8" stroke-width="0.5"/>
<text x="206.6" y="186.03" stroke="#111" stroke-width="0.12">FLO</text>
<rect x="192" y="188.55" width="13.1" height="5.9" fill="#1fbe8a" stroke="#a8a8a8" stroke-width="0.5"/>
<text x="206.6" y="193.35" stroke="#111" stroke-width="0.12">ACE</text>
<rect x="192" y="195.87" width="13.1" height="5.9" fill="#008cb0" stroke="#a8a8a8" stroke-width="0.5"/>
<text x="206.6" y="200.67" stroke="#111" stroke-width="0.12">ACY</text>
</g>
<g stroke="#000" stroke-width="0.2">
<rect x="265.35" y="122.45" width="5.3" height="7.65" fill="#f65e3e"/>
<rect x="265.35" y="130.1" width="5.3" height="17.63" fill="#f9a055"/>
<rect x="265.35" y="147.73" width="5.3" height="11.94" fill="#fac858"/>
<rect x="265.35" y="159.68" width="5.3" height="19.71" fill="#76b878"/>
<rect x="265.35" y="179.39" width="5.3" height="36.41" fill="#10a08c"/>
<rect x="265.35" y="215.8" width="5.3" height="8.23" fill="#0e7575"/>
<rect x="265.35" y="224.04" width="5.3" height="14.26" fill="#0b3f56"/>
<rect x="265.35" y="54.06" width="5.3" height="4.52" fill="#f65e3e"/>
<rect x="265.35" y="58.58" width="5.3" height="10.41" fill="#f9a055"/>
<rect x="265.35" y="68.98" width="5.3" height="7.05" fill="#fac858"/>
<rect x="265.35" y="76.03" width="5.3" height="11.64" fill="#76b878"/>
<rect x="265.35" y="87.67" width="5.3" height="21.5" fill="#10a08c"/>
<rect x="265.35" y="109.17" width="5.3" height="4.86" fill="#0e7575"/>
<rect x="265.35" y="114.03" width="5.3" height="8.42" fill="#0b3f56"/>
<rect x="274.07" y="122.45" width="5.3" height="11.6" fill="#f65e3e"/>
<rect x="274.07" y="134.05" width="5.3" height="24.12" fill="#f9a055"/>
<rect x="274.07" y="158.17" width="5.3" height="15.54" fill="#fac858"/>
<rect x="274.07" y="173.71" width="5.3" height="21.11" fill="#76b878"/>
<rect x="274.07" y="194.81" width="5.3" height="23.89" fill="#10a08c"/>
<rect x="274.07" y="218.7" width="5.3" height="9.16" fill="#0e7575"/>
<rect x="274.07" y="227.86" width="5.3" height="10.44" fill="#0b3f56"/>
<rect x="274.07" y="87.9" width="5.3" height="3.46" fill="#f65e3e"/>
<rect x="274.07" y="91.36" width="5.3" height="7.19" fill="#f9a055"/>
<rect x="274.07" y="98.55" width="5.3" height="4.63" fill="#fac858"/>
<rect x="274.07" y="103.19" width="5.3" height="6.29" fill="#76b878"/>
<rect x="274.07" y="109.48" width="5.3" height="7.12" fill="#10a08c"/>
<rect x="274.07" y="116.6" width="5.3" height="2.73" fill="#0e7575"/>
<rect x="274.07" y="119.34" width="5.3" height="3.11" fill="#0b3f56"/>
<rect x="282.78" y="122.45" width="5.3" height="13.67" fill="#f65e3e"/>
<rect x="282.78" y="136.12" width="5.3" height="23.87" fill="#f9a055"/>
<rect x="282.78" y="159.99" width="5.3" height="8.23" fill="#fac858"/>
<rect x="282.78" y="168.21" width="5.3" height="19.46" fill="#76b878"/>
<rect x="282.78" y="187.67" width="5.3" height="27.34" fill="#10a08c"/>
<rect x="282.78" y="215.01" width="5.3" height="8.57" fill="#0e7575"/>
<rect x="282.78" y="223.59" width="5.3" height="14.71" fill="#0b3f56"/>
<rect x="282.78" y="97.87" width="5.3" height="2.9" fill="#f65e3e"/>
<rect x="282.78" y="100.77" width="5.3" height="5.06" fill="#f9a055"/>
<rect x="282.78" y="105.84" width="5.3" height="1.75" fill="#fac858"/>
<rect x="282.78" y="107.58" width="5.3" height="4.13" fill="#76b878"/>
<rect x="282.78" y="111.71" width="5.3" height="5.8" fill="#10a08c"/>
<rect x="282.78" y="117.51" width="5.3" height="1.82" fill="#0e7575"/>
<rect x="282.78" y="119.33" width="5.3" height="3.12" fill="#0b3f56"/>
<rect x="300.21" y="122.45" width="5.3" height="15.64" fill="#f65e3e"/>
<rect x="300.21" y="138.09" width="5.3" height="19.35" fill="#f9a055"/>
<rect x="300.21" y="157.44" width="5.3" height="7.18" fill="#fac858"/>
<rect x="300.21" y="164.62" width="5.3" height="26.18" fill="#76b878"/>
<rect x="300.21" y="190.8" width="5.3" height="31.63" fill="#10a08c"/>
<rect x="300.21" y="222.43" width="5.3" height="8.23" fill="#0e7575"/>
<rect x="300.21" y="230.65" width="5.3" height="7.65" fill="#0b3f56"/>
<rect x="300.21" y="111.94" width="5.3" height="1.42" fill="#f65e3e"/>
<rect x="300.21" y="113.36" width="5.3" height="1.75" fill="#f9a055"/>
<rect x="300.21" y="115.12" width="5.3" height="0.65" fill="#fac858"/>
<rect x="300.21" y="115.77" width="5.3" height="2.37" fill="#76b878"/>
<rect x="300.21" y="118.14" width="5.3" height="2.87" fill="#10a08c"/>
<rect x="300.21" y="121.01" width="5.3" height="0.75" fill="#0e7575"/>
<rect x="300.21" y="121.76" width="5.3" height="0.69" fill="#0b3f56"/>
<rect x="308.93" y="122.45" width="5.3" height="14.48" fill="#f65e3e"/>
<rect x="308.93" y="136.93" width="5.3" height="20.16" fill="#f9a055"/>
<rect x="308.93" y="157.09" width="5.3" height="8.69" fill="#fac858"/>
<rect x="308.93" y="165.78" width="5.3" height="23.05" fill="#76b878"/>
<rect x="308.93" y="188.83" width="5.3" height="27.22" fill="#10a08c"/>
<rect x="308.93" y="216.06" width="5.3" height="7.76" fill="#0e7575"/>
<rect x="308.93" y="223.82" width="5.3" height="14.48" fill="#0b3f56"/>
<rect x="308.93" y="113.01" width="5.3" height="1.18" fill="#f65e3e"/>
<rect x="308.93" y="114.19" width="5.3" height="1.64" fill="#f9a055"/>
<rect x="308.93" y="115.83" width="5.3" height="0.71" fill="#fac858"/>
<rect x="308.93" y="116.54" width="5.3" height="1.88" fill="#76b878"/>
<rect x="308.93" y="118.42" width="5.3" height="2.22" fill="#10a08c"/>
<rect x="308.93" y="120.64" width="5.3" height="0.63" fill="#0e7575"/>
<rect x="308.93" y="121.27" width="5.3" height="1.18" fill="#0b3f56"/>
<rect x="317.65" y="122.45" width="5.3" height="7.65" fill="#f65e3e"/>
<rect x="317.65" y="130.1" width="5.3" height="24.21" fill="#f9a055"/>
<rect x="317.65" y="154.31" width="5.3" height="6.14" fill="#fac858"/>
<rect x="317.65" y="160.45" width="5.3" height="23.29" fill="#76b878"/>
<rect x="317.65" y="183.73" width="5.3" height="26.99" fill="#10a08c"/>
<rect x="317.65" y="210.73" width="5.3" height="9.73" fill="#0e7575"/>
<rect x="317.65" y="220.46" width="5.3" height="17.84" fill="#0b3f56"/>
<rect x="317.65" y="99.83" width="5.3" height="1.49" fill="#f65e3e"/>
<rect x="317.65" y="101.32" width="5.3" height="4.73" fill="#f9a055"/>
<rect x="317.65" y="106.05" width="5.3" height="1.2" fill="#fac858"/>
<rect x="317.65" y="107.25" width="5.3" height="4.55" fill="#76b878"/>
<rect x="317.65" y="111.8" width="5.3" height="5.27" fill="#10a08c"/>
<rect x="317.65" y="117.07" width="5.3" height="1.9" fill="#0e7575"/>
<rect x="317.65" y="118.97" width="5.3" height="3.48" fill="#0b3f56"/>
<rect x="326.36" y="122.45" width="5.3" height="13.9" fill="#f65e3e"/>
<rect x="326.36" y="136.35" width="5.3" height="27.92" fill="#f9a055"/>
<rect x="326.36" y="164.27" width="5.3" height="6.26" fill="#fac858"/>
<rect x="326.36" y="170.53" width="5.3" height="17.49" fill="#76b878"/>
<rect x="326.36" y="188.02" width="5.3" height="25.83" fill="#10a08c"/>
<rect x="326.36" y="213.86" width="5.3" height="5.21" fill="#0e7575"/>
<rect x="326.36" y="219.07" width="5.3" height="19.23" fill="#0b3f56"/>
<rect x="326.36" y="95.91" width="5.3" height="3.18" fill="#f65e3e"/>
<rect x="326.36" y="99.1" width="5.3" height="6.4" fill="#f9a055"/>
<rect x="326.36" y="105.49" width="5.3" height="1.43" fill="#fac858"/>
<rect x="326.36" y="106.93" width="5.3" height="4.01" fill="#76b878"/>
<rect x="326.36" y="110.93" width="5.3" height="5.92" fill="#10a08c"/>
<rect x="326.36" y="116.85" width="5.3" height="1.19" fill="#0e7575"/>
<rect x="326.36" y="118.04" width="5.3" height="4.41" fill="#0b3f56"/>
<rect x="335.08" y="122.45" width="5.3" height="11.6" fill="#f65e3e"/>
<rect x="335.08" y="134.05" width="5.3" height="24.12" fill="#f9a055"/>
<rect x="335.08" y="158.17" width="5.3" height="7.19" fill="#fac858"/>
<rect x="335.08" y="165.36" width="5.3" height="18.32" fill="#76b878"/>
<rect x="335.08" y="183.68" width="5.3" height="29.34" fill="#10a08c"/>
<rect x="335.08" y="213.02" width="5.3" height="7.65" fill="#0e7575"/>
<rect x="335.08" y="220.67" width="5.3" height="17.63" fill="#0b3f56"/>
<rect x="335.08" y="97.87" width="5.3" height="2.46" fill="#f65e3e"/>
<rect x="335.08" y="100.33" width="5.3" height="5.12" fill="#f9a055"/>
<rect x="335.08" y="105.45" width="5.3" height="1.53" fill="#fac858"/>
<rect x="335.08" y="106.98" width="5.3" height="3.89" fill="#76b878"/>
<rect x="335.08" y="110.86" width="5.3" height="6.22" fill="#10a08c"/>
<rect x="335.08" y="117.09" width="5.3" height="1.62" fill="#0e7575"/>
<rect x="335.08" y="118.71" width="5.3" height="3.74" fill="#0b3f56"/>
<rect x="343.79" y="122.45" width="5.3" height="9.38" fill="#f65e3e"/>
<rect x="343.79" y="131.83" width="5.3" height="17.03" fill="#f9a055"/>
<rect x="343.79" y="148.86" width="5.3" height="7.41" fill="#fac858"/>
<rect x="343.79" y="156.28" width="5.3" height="15.99" fill="#76b878"/>
<rect x="343.79" y="172.27" width="5.3" height="34.76" fill="#10a08c"/>
<rect x="343.79" y="207.02" width="5.3" height="10.54" fill="#0e7575"/>
<rect x="343.79" y="217.56" width="5.3" height="20.74" fill="#0b3f56"/>
<rect x="343.79" y="96.8" width="5.3" height="2.08" fill="#f65e3e"/>
<rect x="343.79" y="98.88" width="5.3" height="3.77" fill="#f9a055"/>
<rect x="343.79" y="102.65" width="5.3" height="1.64" fill="#fac858"/>
<rect x="343.79" y="104.29" width="5.3" height="3.54" fill="#76b878"/>
<rect x="343.79" y="107.83" width="5.3" height="7.69" fill="#10a08c"/>
<rect x="343.79" y="115.53" width="5.3" height="2.33" fill="#0e7575"/>
<rect x="343.79" y="117.86" width="5.3" height="4.59" fill="#0b3f56"/>
<rect x="352.51" y="122.45" width="5.3" height="14.83" fill="#f65e3e"/>
<rect x="352.51" y="137.28" width="5.3" height="18.65" fill="#f9a055"/>
<rect x="352.51" y="155.93" width="5.3" height="6.02" fill="#fac858"/>
<rect x="352.51" y="161.95" width="5.3" height="23.4" fill="#76b878"/>
<rect x="352.51" y="185.36" width="5.3" height="28.04" fill="#10a08c"/>
<rect x="352.51" y="213.39" width="5.3" height="5.33" fill="#0e7575"/>
<rect x="352.51" y="218.72" width="5.3" height="19.58" fill="#0b3f56"/>
<rect x="352.51" y="101.26" width="5.3" height="2.71" fill="#f65e3e"/>
<rect x="352.51" y="103.97" width="5.3" height="3.41" fill="#f9a055"/>
<rect x="352.51" y="107.38" width="5.3" height="1.1" fill="#fac858"/>
<rect x="352.51" y="108.48" width="5.3" height="4.28" fill="#76b878"/>
<rect x="352.51" y="112.76" width="5.3" height="5.13" fill="#10a08c"/>
<rect x="352.51" y="117.89" width="5.3" height="0.97" fill="#0e7575"/>
<rect x="352.51" y="118.87" width="5.3" height="3.58" fill="#0b3f56"/>
<rect x="361.23" y="122.45" width="5.3" height="24.79" fill="#f65e3e"/>
<rect x="361.23" y="147.24" width="5.3" height="16.22" fill="#f9a055"/>
<rect x="361.23" y="163.46" width="5.3" height="7.3" fill="#fac858"/>
<rect x="361.23" y="170.76" width="5.3" height="20.62" fill="#76b878"/>
<rect x="361.23" y="191.38" width="5.3" height="17.49" fill="#10a08c"/>
<rect x="361.23" y="208.87" width="5.3" height="6.14" fill="#0e7575"/>
<rect x="361.23" y="215.01" width="5.3" height="23.29" fill="#0b3f56"/>
<rect x="361.23" y="101.26" width="5.3" height="4.54" fill="#f65e3e"/>
<rect x="361.23" y="105.79" width="5.3" height="2.97" fill="#f9a055"/>
<rect x="361.23" y="108.76" width="5.3" height="1.34" fill="#fac858"/>
<rect x="361.23" y="110.09" width="5.3" height="3.77" fill="#76b878"/>
<rect x="361.23" y="113.87" width="5.3" height="3.2" fill="#10a08c"/>
<rect x="361.23" y="117.07" width="5.3" height="1.12" fill="#0e7575"/>
<rect x="361.23" y="118.19" width="5.3" height="4.26" fill="#0b3f56"/>
<rect x="369.94" y="122.45" width="5.3" height="13.34" fill="#f65e3e"/>
<rect x="369.94" y="135.79" width="5.3" height="15.42" fill="#f9a055"/>
<rect x="369.94" y="151.21" width="5.3" height="5.68" fill="#fac858"/>
<rect x="369.94" y="156.89" width="5.3" height="16.12" fill="#76b878"/>
<rect x="369.94" y="173.01" width="5.3" height="30.85" fill="#10a08c"/>
<rect x="369.94" y="203.86" width="5.3" height="6.03" fill="#0e7575"/>
<rect x="369.94" y="209.89" width="5.3" height="28.41" fill="#0b3f56"/>
<rect x="369.94" y="98.23" width="5.3" height="2.79" fill="#f65e3e"/>
<rect x="369.94" y="101.02" width="5.3" height="3.22" fill="#f9a055"/>
<rect x="369.94" y="104.24" width="5.3" height="1.19" fill="#fac858"/>
<rect x="369.94" y="105.43" width="5.3" height="3.37" fill="#76b878"/>
<rect x="369.94" y="108.8" width="5.3" height="6.45" fill="#10a08c"/>
<rect x="369.94" y="115.25" width="5.3" height="1.26" fill="#0e7575"/>
<rect x="369.94" y="116.51" width="5.3" height="5.94" fill="#0b3f56"/>
<rect x="378.66" y="122.45" width="5.3" height="17.61" fill="#f65e3e"/>
<rect x="378.66" y="140.06" width="5.3" height="28.27" fill="#f9a055"/>
<rect x="378.66" y="168.33" width="5.3" height="4.52" fill="#fac858"/>
<rect x="378.66" y="172.84" width="5.3" height="21.2" fill="#76b878"/>
<rect x="378.66" y="194.05" width="5.3" height="20.51" fill="#10a08c"/>
<rect x="378.66" y="214.55" width="5.3" height="8.34" fill="#0e7575"/>
<rect x="378.66" y="222.89" width="5.3" height="15.41" fill="#0b3f56"/>
<rect x="378.66" y="106.6" width="5.3" height="2.41" fill="#f65e3e"/>
<rect x="378.66" y="109.01" width="5.3" height="3.87" fill="#f9a055"/>
<rect x="378.66" y="112.88" width="5.3" height="0.62" fill="#fac858"/>
<rect x="378.66" y="113.49" width="5.3" height="2.9" fill="#76b878"/>
<rect x="378.66" y="116.39" width="5.3" height="2.81" fill="#10a08c"/>
<rect x="378.66" y="119.2" width="5.3" height="1.14" fill="#0e7575"/>
<rect x="378.66" y="120.34" width="5.3" height="2.11" fill="#0b3f56"/>
<rect x="387.37" y="122.45" width="5.3" height="16.8" fill="#f65e3e"/>
<rect x="387.37" y="139.25" width="5.3" height="26.18" fill="#f9a055"/>
<rect x="387.37" y="165.43" width="5.3" height="5.1" fill="#fac858"/>
<rect x="387.37" y="170.53" width="5.3" height="19" fill="#76b878"/>
<rect x="387.37" y="189.53" width="5.3" height="24.68" fill="#10a08c"/>
<rect x="387.37" y="214.2" width="5.3" height="5.68" fill="#0e7575"/>
<rect x="387.37" y="219.88" width="5.3" height="18.42" fill="#0b3f56"/>
<rect x="387.37" y="113.01" width="5.3" height="1.37" fill="#f65e3e"/>
<rect x="387.37" y="114.38" width="5.3" height="2.13" fill="#f9a055"/>
<rect x="387.37" y="116.51" width="5.3" height="0.42" fill="#fac858"/>
<rect x="387.37" y="116.93" width="5.3" height="1.55" fill="#76b878"/>
<rect x="387.37" y="118.48" width="5.3" height="2.01" fill="#10a08c"/>
<rect x="387.37" y="120.49" width="5.3" height="0.46" fill="#0e7575"/>
<rect x="387.37" y="120.95" width="5.3" height="1.5" fill="#0b3f56"/>
<rect x="396.09" y="122.45" width="5.3" height="11.6" fill="#f65e3e"/>
<rect x="396.09" y="134.05" width="5.3" height="17.63" fill="#f9a055"/>
<rect x="396.09" y="151.67" width="5.3" height="15.19" fill="#fac858"/>
<rect x="396.09" y="166.86" width="5.3" height="20.76" fill="#76b878"/>
<rect x="396.09" y="187.62" width="5.3" height="22.27" fill="#10a08c"/>
<rect x="396.09" y="209.89" width="5.3" height="6.84" fill="#0e7575"/>
<rect x="396.09" y="216.73" width="5.3" height="21.57" fill="#0b3f56"/>
<rect x="396.09" y="70.09" width="5.3" height="5.24" fill="#f65e3e"/>
<rect x="396.09" y="75.33" width="5.3" height="7.97" fill="#f9a055"/>
<rect x="396.09" y="83.3" width="5.3" height="6.87" fill="#fac858"/>
<rect x="396.09" y="90.16" width="5.3" height="9.38" fill="#76b878"/>
<rect x="396.09" y="99.55" width="5.3" height="10.06" fill="#10a08c"/>
<rect x="396.09" y="109.61" width="5.3" height="3.09" fill="#0e7575"/>
<rect x="396.09" y="112.7" width="5.3" height="9.75" fill="#0b3f56"/>
<rect x="404.81" y="122.45" width="5.3" height="14.48" fill="#f65e3e"/>
<rect x="404.81" y="136.93" width="5.3" height="15.64" fill="#f9a055"/>
<rect x="404.81" y="152.57" width="5.3" height="14.02" fill="#fac858"/>
<rect x="404.81" y="166.59" width="5.3" height="25.95" fill="#76b878"/>
<rect x="404.81" y="192.54" width="5.3" height="22.01" fill="#10a08c"/>
<rect x="404.81" y="214.55" width="5.3" height="8.69" fill="#0e7575"/>
<rect x="404.81" y="223.24" width="5.3" height="15.06" fill="#0b3f56"/>
<rect x="404.81" y="17.55" width="5.3" height="13.11" fill="#f65e3e"/>
<rect x="404.81" y="30.66" width="5.3" height="14.16" fill="#f9a055"/>
<rect x="404.81" y="44.82" width="5.3" height="12.69" fill="#fac858"/>
<rect x="404.81" y="57.52" width="5.3" height="23.5" fill="#76b878"/>
<rect x="404.81" y="81.01" width="5.3" height="19.93" fill="#10a08c"/>
<rect x="404.81" y="100.95" width="5.3" height="7.87" fill="#0e7575"/>
<rect x="404.81" y="108.81" width="5.3" height="13.64" fill="#0b3f56"/>
<rect x="413.52" y="122.45" width="5.3" height="14.84" fill="#f65e3e"/>
<rect x="413.52" y="137.29" width="5.3" height="19.6" fill="#f9a055"/>
<rect x="413.52" y="156.89" width="5.3" height="16.82" fill="#fac858"/>
<rect x="413.52" y="173.71" width="5.3" height="21.11" fill="#76b878"/>
<rect x="413.52" y="194.81" width="5.3" height="23.89" fill="#10a08c"/>
<rect x="413.52" y="218.7" width="5.3" height="8.81" fill="#0e7575"/>
<rect x="413.52" y="227.52" width="5.3" height="10.78" fill="#0b3f56"/>
<rect x="413.52" y="72.05" width="5.3" height="6.46" fill="#f65e3e"/>
<rect x="413.52" y="78.51" width="5.3" height="8.53" fill="#f9a055"/>
<rect x="413.52" y="87.03" width="5.3" height="7.32" fill="#fac858"/>
<rect x="413.52" y="94.35" width="5.3" height="9.18" fill="#76b878"/>
<rect x="413.52" y="103.53" width="5.3" height="10.39" fill="#10a08c"/>
<rect x="413.52" y="113.92" width="5.3" height="3.83" fill="#0e7575"/>
<rect x="413.52" y="117.76" width="5.3" height="4.69" fill="#0b3f56"/>
</g>
<rect x="263.7" y="6.9" width="156.6" height="231.4" fill="none" stroke="#6e6e6e" stroke-width="1"/>
<line x1="263.7" y1="122.45" x2="420.3" y2="122.45" stroke="#181818" stroke-width="0.65"/>
<path d="M261.5 104.64H263.7 M261.5 86.83H263.7 M261.5 69.02H263.7 M261.5 51.21H263.7 M261.5 33.4H263.7 M261.5 15.59H263.7 M262.4 113.55H263.7 M262.4 95.73H263.7 M262.4 77.93H263.7 M262.4 60.12H263.7 M262.4 42.31H263.7 M262.4 24.5H263.7 M261.5 238.3H263.7 M261.5 215.13H263.7 M261.5 191.96H263.7 M261.5 168.79H263.7 M261.5 145.62H263.7 M262.4 226.72H263.7 M262.4 203.55H263.7 M262.4 180.38H263.7 M262.4 157.21H263.7 M262.4 134.03H263.7 M268 238.3v2 M276.72 238.3v2 M285.43 238.3v2 M294.15 238.3v2 M302.86 238.3v2 M311.58 238.3v2 M320.3 238.3v2 M329.01 238.3v2 M337.73 238.3v2 M346.44 238.3v2 M355.16 238.3v2 M363.88 238.3v2 M372.59 238.3v2 M381.31 238.3v2 M390.02 238.3v2 M398.74 238.3v2 M407.46 238.3v2 M416.17 238.3v2" stroke="#444" stroke-width="0.7" fill="none"/>
<g font-size="5.8" text-anchor="end" fill="#222" stroke="#222" stroke-width="0.05">
<text x="259.9" y="106.49">10</text>
<text x="259.9" y="88.68">20</text>
<text x="259.9" y="70.87">30</text>
<text x="259.9" y="53.06">40</text>
<text x="259.9" y="35.25">50</text>
<text x="259.9" y="17.44">60</text>
<text x="259.9" y="240.15">0</text>
<text x="259.9" y="216.98">20</text>
<text x="259.9" y="193.81">40</text>
<text x="259.9" y="170.64">60</text>
<text x="259.9" y="147.47">80</text>
<text x="259.9" y="124.3">100</text>
</g>
<text transform="translate(247.5 64.67) rotate(-90)" font-size="7" text-anchor="middle" fill="#2a2a2a">Alkylated-PAHs concentration (ng/m<tspan font-size="4.5" dy="-2.4">3</tspan><tspan dy="2.4">)</tspan></text>
<text transform="translate(247.5 180.38) rotate(-90)" font-size="7" text-anchor="middle" fill="#2a2a2a">Percentage (%)</text>
<text x="272.2" y="20.7" font-size="9.3" fill="#111">(b)</text>
<g font-size="4.3" font-weight="bold" text-anchor="end" fill="#151515" stroke="#151515" stroke-width="0.05">
<text transform="translate(271 243.4) rotate(-45)">15 March 2022 day</text>
<text transform="translate(279.72 243.4) rotate(-45)">15 March 2022 night</text>
<text transform="translate(288.43 243.4) rotate(-45)">16 March 2022 day</text>
<text transform="translate(297.15 243.4) rotate(-45)">16 March 2022 night</text>
<text transform="translate(305.86 243.4) rotate(-45)">17 March 2022 day</text>
<text transform="translate(314.58 243.4) rotate(-45)">17 March 2022 night</text>
<text transform="translate(323.3 243.4) rotate(-45)">18 March 2022 day</text>
<text transform="translate(332.01 243.4) rotate(-45)">18 March 2022 night</text>
<text transform="translate(340.73 243.4) rotate(-45)">19 March 2022 day</text>
<text transform="translate(349.44 243.4) rotate(-45)">19 March 2022 night</text>
<text transform="translate(358.16 243.4) rotate(-45)">20 March 2022 day</text>
<text transform="translate(366.88 243.4) rotate(-45)">20 March 2022 night</text>
<text transform="translate(375.59 243.4) rotate(-45)">21 March 2022 day</text>
<text transform="translate(384.31 243.4) rotate(-45)">21 March 2022 night</text>
<text transform="translate(393.02 243.4) rotate(-45)">22 March 2022 day</text>
<text transform="translate(401.74 243.4) rotate(-45)">22 March 2022 night</text>
<text transform="translate(410.46 243.4) rotate(-45)">23 March 2022 day</text>
<text transform="translate(419.17 243.4) rotate(-45)">23 March 2022 night</text>
</g>
<g font-size="5.6" fill="#111">
<rect x="428.5" y="96.85" width="13.1" height="5.9" fill="#f65e3e" stroke="#a8a8a8" stroke-width="0.5"/>
<text x="443.1" y="101.65" stroke="#111" stroke-width="0.12">M-CHR</text>
<rect x="428.5" y="104.18" width="13.1" height="5.9" fill="#f9a055" stroke="#a8a8a8" stroke-width="0.5"/>
<text x="443.1" y="108.98" stroke="#111" stroke-width="0.12">RET</text>
<rect x="428.5" y="111.51" width="13.1" height="5.9" fill="#fac858" stroke="#a8a8a8" stroke-width="0.5"/>
<text x="443.1" y="116.31" stroke="#111" stroke-width="0.12">M-FLA</text>
<rect x="428.5" y="118.84" width="13.1" height="5.9" fill="#76b878" stroke="#a8a8a8" stroke-width="0.5"/>
<text x="443.1" y="123.64" stroke="#111" stroke-width="0.12">9M-ANT</text>
<rect x="428.5" y="126.17" width="13.1" height="5.9" fill="#10a08c" stroke="#a8a8a8" stroke-width="0.5"/>
<text x="443.1" y="130.97" stroke="#111" stroke-width="0.12">2,6DM-NAP</text>
<rect x="428.5" y="133.5" width="13.1" height="5.9" fill="#0e7575" stroke="#a8a8a8" stroke-width="0.5"/>
<text x="443.1" y="138.3" stroke="#111" stroke-width="0.12">1M-NAP</text>
<rect x="428.5" y="140.83" width="13.1" height="5.9" fill="#0b3f56" stroke="#a8a8a8" stroke-width="0.5"/>
<text x="443.1" y="145.63" stroke="#111" stroke-width="0.12">2M-NAP</text>
</g>
<g stroke="#000" stroke-width="0.2">
<rect x="29.75" y="386.5" width="5.3" height="12.85" fill="#b80a3e"/>
<rect x="29.75" y="399.35" width="5.3" height="16.32" fill="#f23e49"/>
<rect x="29.75" y="415.67" width="5.3" height="8.22" fill="#f87730"/>
<rect x="29.75" y="423.89" width="5.3" height="10.65" fill="#fcb656"/>
<rect x="29.75" y="434.54" width="5.3" height="19.1" fill="#fde07e"/>
<rect x="29.75" y="453.63" width="5.3" height="4.86" fill="#fffcdc"/>
<rect x="29.75" y="458.5" width="5.3" height="20.37" fill="#f5f69c"/>
<rect x="29.75" y="478.87" width="5.3" height="16.09" fill="#b2ec80"/>
<rect x="29.75" y="494.96" width="5.3" height="1.74" fill="#34c4a0"/>
<rect x="29.75" y="496.69" width="5.3" height="3.13" fill="#12a0c4"/>
<rect x="29.75" y="499.82" width="5.3" height="2.43" fill="#2454bc"/>
<rect x="29.75" y="342.82" width="5.3" height="4.85" fill="#b80a3e"/>
<rect x="29.75" y="347.67" width="5.3" height="6.16" fill="#f23e49"/>
<rect x="29.75" y="353.83" width="5.3" height="3.1" fill="#f87730"/>
<rect x="29.75" y="356.93" width="5.3" height="4.02" fill="#fcb656"/>
<rect x="29.75" y="360.95" width="5.3" height="7.21" fill="#fde07e"/>
<rect x="29.75" y="368.15" width="5.3" height="1.83" fill="#fffcdc"/>
<rect x="29.75" y="369.99" width="5.3" height="7.69" fill="#f5f69c"/>
<rect x="29.75" y="377.68" width="5.3" height="6.07" fill="#b2ec80"/>
<rect x="29.75" y="383.75" width="5.3" height="0.66" fill="#34c4a0"/>
<rect x="29.75" y="384.4" width="5.3" height="1.18" fill="#12a0c4"/>
<rect x="29.75" y="385.58" width="5.3" height="0.92" fill="#2454bc"/>
<rect x="38.48" y="386.5" width="5.3" height="15.39" fill="#b80a3e"/>
<rect x="38.48" y="401.89" width="5.3" height="11.46" fill="#f23e49"/>
<rect x="38.48" y="413.35" width="5.3" height="8.22" fill="#f87730"/>
<rect x="38.48" y="421.57" width="5.3" height="10.07" fill="#fcb656"/>
<rect x="38.48" y="431.64" width="5.3" height="18.06" fill="#fde07e"/>
<rect x="38.48" y="449.7" width="5.3" height="10.3" fill="#fffcdc"/>
<rect x="38.48" y="460" width="5.3" height="16.09" fill="#f5f69c"/>
<rect x="38.48" y="476.09" width="5.3" height="18.4" fill="#b2ec80"/>
<rect x="38.48" y="494.49" width="5.3" height="1.85" fill="#34c4a0"/>
<rect x="38.48" y="496.35" width="5.3" height="2.89" fill="#12a0c4"/>
<rect x="38.48" y="499.24" width="5.3" height="3.01" fill="#2454bc"/>
<rect x="38.48" y="355.42" width="5.3" height="4.13" fill="#b80a3e"/>
<rect x="38.48" y="359.55" width="5.3" height="3.08" fill="#f23e49"/>
<rect x="38.48" y="362.63" width="5.3" height="2.21" fill="#f87730"/>
<rect x="38.48" y="364.84" width="5.3" height="2.7" fill="#fcb656"/>
<rect x="38.48" y="367.54" width="5.3" height="4.85" fill="#fde07e"/>
<rect x="38.48" y="372.39" width="5.3" height="2.77" fill="#fffcdc"/>
<rect x="38.48" y="375.16" width="5.3" height="4.32" fill="#f5f69c"/>
<rect x="38.48" y="379.48" width="5.3" height="4.94" fill="#b2ec80"/>
<rect x="38.48" y="384.42" width="5.3" height="0.5" fill="#34c4a0"/>
<rect x="38.48" y="384.91" width="5.3" height="0.78" fill="#12a0c4"/>
<rect x="38.48" y="385.69" width="5.3" height="0.81" fill="#2454bc"/>
<rect x="47.2" y="386.5" width="5.3" height="11.35" fill="#b80a3e"/>
<rect x="47.2" y="397.85" width="5.3" height="8.81" fill="#f23e49"/>
<rect x="47.2" y="406.66" width="5.3" height="9.5" fill="#f87730"/>
<rect x="47.2" y="416.16" width="5.3" height="14.6" fill="#fcb656"/>
<rect x="47.2" y="430.76" width="5.3" height="9.85" fill="#fde07e"/>
<rect x="47.2" y="440.61" width="5.3" height="5.79" fill="#fffcdc"/>
<rect x="47.2" y="446.4" width="5.3" height="19" fill="#f5f69c"/>
<rect x="47.2" y="465.4" width="5.3" height="26.07" fill="#b2ec80"/>
<rect x="47.2" y="491.47" width="5.3" height="3.24" fill="#34c4a0"/>
<rect x="47.2" y="494.72" width="5.3" height="3.36" fill="#12a0c4"/>
<rect x="47.2" y="498.08" width="5.3" height="4.17" fill="#2454bc"/>
<rect x="47.2" y="366.76" width="5.3" height="1.94" fill="#b80a3e"/>
<rect x="47.2" y="368.7" width="5.3" height="1.5" fill="#f23e49"/>
<rect x="47.2" y="370.2" width="5.3" height="1.62" fill="#f87730"/>
<rect x="47.2" y="371.82" width="5.3" height="2.49" fill="#fcb656"/>
<rect x="47.2" y="374.31" width="5.3" height="1.68" fill="#fde07e"/>
<rect x="47.2" y="375.99" width="5.3" height="0.99" fill="#fffcdc"/>
<rect x="47.2" y="376.98" width="5.3" height="3.24" fill="#f5f69c"/>
<rect x="47.2" y="380.22" width="5.3" height="4.45" fill="#b2ec80"/>
<rect x="47.2" y="384.66" width="5.3" height="0.55" fill="#34c4a0"/>
<rect x="47.2" y="385.22" width="5.3" height="0.57" fill="#12a0c4"/>
<rect x="47.2" y="385.79" width="5.3" height="0.71" fill="#2454bc"/>
<rect x="64.65" y="386.5" width="5.3" height="9.62" fill="#b80a3e"/>
<rect x="64.65" y="396.12" width="5.3" height="9.39" fill="#f23e49"/>
<rect x="64.65" y="405.5" width="5.3" height="11.01" fill="#f87730"/>
<rect x="64.65" y="416.51" width="5.3" height="11.93" fill="#fcb656"/>
<rect x="64.65" y="428.44" width="5.3" height="13.56" fill="#fde07e"/>
<rect x="64.65" y="442" width="5.3" height="6.14" fill="#fffcdc"/>
<rect x="64.65" y="448.14" width="5.3" height="18.77" fill="#f5f69c"/>
<rect x="64.65" y="466.91" width="5.3" height="26.88" fill="#b2ec80"/>
<rect x="64.65" y="493.79" width="5.3" height="1.85" fill="#34c4a0"/>
<rect x="64.65" y="495.65" width="5.3" height="3.01" fill="#12a0c4"/>
<rect x="64.65" y="498.66" width="5.3" height="3.59" fill="#2454bc"/>
<rect x="64.65" y="378.94" width="5.3" height="0.63" fill="#b80a3e"/>
<rect x="64.65" y="379.57" width="5.3" height="0.61" fill="#f23e49"/>
<rect x="64.65" y="380.18" width="5.3" height="0.72" fill="#f87730"/>
<rect x="64.65" y="380.9" width="5.3" height="0.78" fill="#fcb656"/>
<rect x="64.65" y="381.68" width="5.3" height="0.89" fill="#fde07e"/>
<rect x="64.65" y="382.56" width="5.3" height="0.4" fill="#fffcdc"/>
<rect x="64.65" y="382.97" width="5.3" height="1.23" fill="#f5f69c"/>
<rect x="64.65" y="384.19" width="5.3" height="1.76" fill="#b2ec80"/>
<rect x="64.65" y="385.95" width="5.3" height="0.12" fill="#34c4a0"/>
<rect x="64.65" y="386.07" width="5.3" height="0.2" fill="#12a0c4"/>
<rect x="64.65" y="386.27" width="5.3" height="0.23" fill="#2454bc"/>
<rect x="73.38" y="386.5" width="5.3" height="9.38" fill="#b80a3e"/>
<rect x="73.38" y="395.88" width="5.3" height="10.53" fill="#f23e49"/>
<rect x="73.38" y="406.41" width="5.3" height="13.2" fill="#f87730"/>
<rect x="73.38" y="419.6" width="5.3" height="11.81" fill="#fcb656"/>
<rect x="73.38" y="431.41" width="5.3" height="14.47" fill="#fde07e"/>
<rect x="73.38" y="445.88" width="5.3" height="6.95" fill="#fffcdc"/>
<rect x="73.38" y="452.82" width="5.3" height="13.2" fill="#f5f69c"/>
<rect x="73.38" y="466.02" width="5.3" height="28.47" fill="#b2ec80"/>
<rect x="73.38" y="494.49" width="5.3" height="1.27" fill="#34c4a0"/>
<rect x="73.38" y="495.77" width="5.3" height="2.89" fill="#12a0c4"/>
<rect x="73.38" y="498.66" width="5.3" height="3.59" fill="#2454bc"/>
<rect x="73.38" y="376.84" width="5.3" height="0.78" fill="#b80a3e"/>
<rect x="73.38" y="377.62" width="5.3" height="0.88" fill="#f23e49"/>
<rect x="73.38" y="378.5" width="5.3" height="1.1" fill="#f87730"/>
<rect x="73.38" y="379.6" width="5.3" height="0.99" fill="#fcb656"/>
<rect x="73.38" y="380.59" width="5.3" height="1.21" fill="#fde07e"/>
<rect x="73.38" y="381.8" width="5.3" height="0.58" fill="#fffcdc"/>
<rect x="73.38" y="382.38" width="5.3" height="1.1" fill="#f5f69c"/>
<rect x="73.38" y="383.48" width="5.3" height="2.38" fill="#b2ec80"/>
<rect x="73.38" y="385.85" width="5.3" height="0.11" fill="#34c4a0"/>
<rect x="73.38" y="385.96" width="5.3" height="0.24" fill="#12a0c4"/>
<rect x="73.38" y="386.2" width="5.3" height="0.3" fill="#2454bc"/>
<rect x="82.11" y="386.5" width="5.3" height="14.01" fill="#b80a3e"/>
<rect x="82.11" y="400.51" width="5.3" height="8.8" fill="#f23e49"/>
<rect x="82.11" y="409.3" width="5.3" height="13.2" fill="#f87730"/>
<rect x="82.11" y="422.5" width="5.3" height="12.04" fill="#fcb656"/>
<rect x="82.11" y="434.54" width="5.3" height="16.32" fill="#fde07e"/>
<rect x="82.11" y="450.86" width="5.3" height="7.06" fill="#fffcdc"/>
<rect x="82.11" y="457.92" width="5.3" height="15.51" fill="#f5f69c"/>
<rect x="82.11" y="473.43" width="5.3" height="19.56" fill="#b2ec80"/>
<rect x="82.11" y="492.99" width="5.3" height="1.97" fill="#34c4a0"/>
<rect x="82.11" y="494.96" width="5.3" height="3.13" fill="#12a0c4"/>
<rect x="82.11" y="498.08" width="5.3" height="4.17" fill="#2454bc"/>
<rect x="82.11" y="364.66" width="5.3" height="2.64" fill="#b80a3e"/>
<rect x="82.11" y="367.3" width="5.3" height="1.66" fill="#f23e49"/>
<rect x="82.11" y="368.96" width="5.3" height="2.49" fill="#f87730"/>
<rect x="82.11" y="371.45" width="5.3" height="2.27" fill="#fcb656"/>
<rect x="82.11" y="373.72" width="5.3" height="3.08" fill="#fde07e"/>
<rect x="82.11" y="376.8" width="5.3" height="1.33" fill="#fffcdc"/>
<rect x="82.11" y="378.14" width="5.3" height="2.93" fill="#f5f69c"/>
<rect x="82.11" y="381.06" width="5.3" height="3.69" fill="#b2ec80"/>
<rect x="82.11" y="384.75" width="5.3" height="0.37" fill="#34c4a0"/>
<rect x="82.11" y="385.12" width="5.3" height="0.59" fill="#12a0c4"/>
<rect x="82.11" y="385.71" width="5.3" height="0.79" fill="#2454bc"/>
<rect x="90.83" y="386.5" width="5.3" height="20.16" fill="#b80a3e"/>
<rect x="90.83" y="406.66" width="5.3" height="11.24" fill="#f23e49"/>
<rect x="90.83" y="417.9" width="5.3" height="11.7" fill="#f87730"/>
<rect x="90.83" y="429.6" width="5.3" height="12.98" fill="#fcb656"/>
<rect x="90.83" y="442.58" width="5.3" height="11.01" fill="#fde07e"/>
<rect x="90.83" y="453.59" width="5.3" height="5.21" fill="#fffcdc"/>
<rect x="90.83" y="458.8" width="5.3" height="18.08" fill="#f5f69c"/>
<rect x="90.83" y="476.88" width="5.3" height="17.84" fill="#b2ec80"/>
<rect x="90.83" y="494.72" width="5.3" height="1.62" fill="#34c4a0"/>
<rect x="90.83" y="496.34" width="5.3" height="2.32" fill="#12a0c4"/>
<rect x="90.83" y="498.66" width="5.3" height="3.59" fill="#2454bc"/>
<rect x="90.83" y="364.24" width="5.3" height="3.88" fill="#b80a3e"/>
<rect x="90.83" y="368.12" width="5.3" height="2.16" fill="#f23e49"/>
<rect x="90.83" y="370.28" width="5.3" height="2.25" fill="#f87730"/>
<rect x="90.83" y="372.53" width="5.3" height="2.5" fill="#fcb656"/>
<rect x="90.83" y="375.02" width="5.3" height="2.12" fill="#fde07e"/>
<rect x="90.83" y="377.14" width="5.3" height="1" fill="#fffcdc"/>
<rect x="90.83" y="378.14" width="5.3" height="3.48" fill="#f5f69c"/>
<rect x="90.83" y="381.62" width="5.3" height="3.43" fill="#b2ec80"/>
<rect x="90.83" y="385.05" width="5.3" height="0.31" fill="#34c4a0"/>
<rect x="90.83" y="385.36" width="5.3" height="0.45" fill="#12a0c4"/>
<rect x="90.83" y="385.81" width="5.3" height="0.69" fill="#2454bc"/>
<rect x="99.56" y="386.5" width="5.3" height="11.01" fill="#b80a3e"/>
<rect x="99.56" y="397.51" width="5.3" height="9.15" fill="#f23e49"/>
<rect x="99.56" y="406.66" width="5.3" height="11.82" fill="#f87730"/>
<rect x="99.56" y="418.48" width="5.3" height="11.12" fill="#fcb656"/>
<rect x="99.56" y="429.6" width="5.3" height="11.01" fill="#fde07e"/>
<rect x="99.56" y="440.61" width="5.3" height="5.79" fill="#fffcdc"/>
<rect x="99.56" y="446.4" width="5.3" height="22.83" fill="#f5f69c"/>
<rect x="99.56" y="469.23" width="5.3" height="23.75" fill="#b2ec80"/>
<rect x="99.56" y="492.98" width="5.3" height="1.97" fill="#34c4a0"/>
<rect x="99.56" y="494.95" width="5.3" height="2.2" fill="#12a0c4"/>
<rect x="99.56" y="497.15" width="5.3" height="5.1" fill="#2454bc"/>
<rect x="99.56" y="370.12" width="5.3" height="1.56" fill="#b80a3e"/>
<rect x="99.56" y="371.68" width="5.3" height="1.3" fill="#f23e49"/>
<rect x="99.56" y="372.97" width="5.3" height="1.67" fill="#f87730"/>
<rect x="99.56" y="374.65" width="5.3" height="1.57" fill="#fcb656"/>
<rect x="99.56" y="376.22" width="5.3" height="1.56" fill="#fde07e"/>
<rect x="99.56" y="377.78" width="5.3" height="0.82" fill="#fffcdc"/>
<rect x="99.56" y="378.6" width="5.3" height="3.23" fill="#f5f69c"/>
<rect x="99.56" y="381.83" width="5.3" height="3.36" fill="#b2ec80"/>
<rect x="99.56" y="385.19" width="5.3" height="0.28" fill="#34c4a0"/>
<rect x="99.56" y="385.47" width="5.3" height="0.31" fill="#12a0c4"/>
<rect x="99.56" y="385.78" width="5.3" height="0.72" fill="#2454bc"/>
<rect x="108.28" y="386.5" width="5.3" height="12.17" fill="#b80a3e"/>
<rect x="108.28" y="398.67" width="5.3" height="12.17" fill="#f23e49"/>
<rect x="108.28" y="410.83" width="5.3" height="7.99" fill="#f87730"/>
<rect x="108.28" y="418.83" width="5.3" height="11.93" fill="#fcb656"/>
<rect x="108.28" y="430.76" width="5.3" height="10.66" fill="#fde07e"/>
<rect x="108.28" y="441.42" width="5.3" height="7.88" fill="#fffcdc"/>
<rect x="108.28" y="449.3" width="5.3" height="21.78" fill="#f5f69c"/>
<rect x="108.28" y="471.08" width="5.3" height="23.87" fill="#b2ec80"/>
<rect x="108.28" y="494.95" width="5.3" height="1.39" fill="#34c4a0"/>
<rect x="108.28" y="496.34" width="5.3" height="2.66" fill="#12a0c4"/>
<rect x="108.28" y="499.01" width="5.3" height="3.24" fill="#2454bc"/>
<rect x="108.28" y="366.76" width="5.3" height="2.07" fill="#b80a3e"/>
<rect x="108.28" y="368.83" width="5.3" height="2.07" fill="#f23e49"/>
<rect x="108.28" y="370.91" width="5.3" height="1.36" fill="#f87730"/>
<rect x="108.28" y="372.27" width="5.3" height="2.04" fill="#fcb656"/>
<rect x="108.28" y="374.31" width="5.3" height="1.82" fill="#fde07e"/>
<rect x="108.28" y="376.13" width="5.3" height="1.34" fill="#fffcdc"/>
<rect x="108.28" y="377.47" width="5.3" height="3.71" fill="#f5f69c"/>
<rect x="108.28" y="381.18" width="5.3" height="4.07" fill="#b2ec80"/>
<rect x="108.28" y="385.26" width="5.3" height="0.24" fill="#34c4a0"/>
<rect x="108.28" y="385.49" width="5.3" height="0.45" fill="#12a0c4"/>
<rect x="108.28" y="385.95" width="5.3" height="0.55" fill="#2454bc"/>
<rect x="117.01" y="386.5" width="5.3" height="11" fill="#b80a3e"/>
<rect x="117.01" y="397.5" width="5.3" height="14.12" fill="#f23e49"/>
<rect x="117.01" y="411.62" width="5.3" height="9.95" fill="#f87730"/>
<rect x="117.01" y="421.57" width="5.3" height="14.12" fill="#fcb656"/>
<rect x="117.01" y="435.69" width="5.3" height="11.92" fill="#fde07e"/>
<rect x="117.01" y="447.62" width="5.3" height="5.21" fill="#fffcdc"/>
<rect x="117.01" y="452.82" width="5.3" height="19.1" fill="#f5f69c"/>
<rect x="117.01" y="471.92" width="5.3" height="23.84" fill="#b2ec80"/>
<rect x="117.01" y="495.77" width="5.3" height="1.74" fill="#34c4a0"/>
<rect x="117.01" y="497.5" width="5.3" height="2.31" fill="#12a0c4"/>
<rect x="117.01" y="499.82" width="5.3" height="2.43" fill="#2454bc"/>
<rect x="117.01" y="367.6" width="5.3" height="1.8" fill="#b80a3e"/>
<rect x="117.01" y="369.4" width="5.3" height="2.31" fill="#f23e49"/>
<rect x="117.01" y="371.7" width="5.3" height="1.63" fill="#f87730"/>
<rect x="117.01" y="373.33" width="5.3" height="2.31" fill="#fcb656"/>
<rect x="117.01" y="375.63" width="5.3" height="1.95" fill="#fde07e"/>
<rect x="117.01" y="377.58" width="5.3" height="0.85" fill="#fffcdc"/>
<rect x="117.01" y="378.43" width="5.3" height="3.12" fill="#f5f69c"/>
<rect x="117.01" y="381.55" width="5.3" height="3.89" fill="#b2ec80"/>
<rect x="117.01" y="385.44" width="5.3" height="0.28" fill="#34c4a0"/>
<rect x="117.01" y="385.73" width="5.3" height="0.38" fill="#12a0c4"/>
<rect x="117.01" y="386.1" width="5.3" height="0.4" fill="#2454bc"/>
<rect x="125.74" y="386.5" width="5.3" height="12.86" fill="#b80a3e"/>
<rect x="125.74" y="399.36" width="5.3" height="7.99" fill="#f23e49"/>
<rect x="125.74" y="407.36" width="5.3" height="9.39" fill="#f87730"/>
<rect x="125.74" y="416.74" width="5.3" height="13.21" fill="#fcb656"/>
<rect x="125.74" y="429.95" width="5.3" height="16.22" fill="#fde07e"/>
<rect x="125.74" y="446.17" width="5.3" height="4.29" fill="#fffcdc"/>
<rect x="125.74" y="450.46" width="5.3" height="22.36" fill="#f5f69c"/>
<rect x="125.74" y="472.82" width="5.3" height="22.48" fill="#b2ec80"/>
<rect x="125.74" y="495.3" width="5.3" height="2.2" fill="#34c4a0"/>
<rect x="125.74" y="497.5" width="5.3" height="1.97" fill="#12a0c4"/>
<rect x="125.74" y="499.47" width="5.3" height="2.78" fill="#2454bc"/>
<rect x="125.74" y="365.5" width="5.3" height="2.33" fill="#b80a3e"/>
<rect x="125.74" y="367.83" width="5.3" height="1.45" fill="#f23e49"/>
<rect x="125.74" y="369.28" width="5.3" height="1.7" fill="#f87730"/>
<rect x="125.74" y="370.99" width="5.3" height="2.4" fill="#fcb656"/>
<rect x="125.74" y="373.38" width="5.3" height="2.94" fill="#fde07e"/>
<rect x="125.74" y="376.33" width="5.3" height="0.78" fill="#fffcdc"/>
<rect x="125.74" y="377.1" width="5.3" height="4.06" fill="#f5f69c"/>
<rect x="125.74" y="381.16" width="5.3" height="4.08" fill="#b2ec80"/>
<rect x="125.74" y="385.24" width="5.3" height="0.4" fill="#34c4a0"/>
<rect x="125.74" y="385.64" width="5.3" height="0.36" fill="#12a0c4"/>
<rect x="125.74" y="386" width="5.3" height="0.5" fill="#2454bc"/>
<rect x="134.46" y="386.5" width="5.3" height="8.69" fill="#b80a3e"/>
<rect x="134.46" y="395.19" width="5.3" height="9.15" fill="#f23e49"/>
<rect x="134.46" y="404.34" width="5.3" height="7.99" fill="#f87730"/>
<rect x="134.46" y="412.34" width="5.3" height="11.47" fill="#fcb656"/>
<rect x="134.46" y="423.81" width="5.3" height="17.03" fill="#fde07e"/>
<rect x="134.46" y="440.84" width="5.3" height="11.93" fill="#fffcdc"/>
<rect x="134.46" y="452.78" width="5.3" height="23.29" fill="#f5f69c"/>
<rect x="134.46" y="476.06" width="5.3" height="17.5" fill="#b2ec80"/>
<rect x="134.46" y="493.56" width="5.3" height="2.09" fill="#34c4a0"/>
<rect x="134.46" y="495.65" width="5.3" height="3.01" fill="#12a0c4"/>
<rect x="134.46" y="498.66" width="5.3" height="3.59" fill="#2454bc"/>
<rect x="134.46" y="367.6" width="5.3" height="1.42" fill="#b80a3e"/>
<rect x="134.46" y="369.02" width="5.3" height="1.49" fill="#f23e49"/>
<rect x="134.46" y="370.51" width="5.3" height="1.31" fill="#f87730"/>
<rect x="134.46" y="371.82" width="5.3" height="1.87" fill="#fcb656"/>
<rect x="134.46" y="373.69" width="5.3" height="2.78" fill="#fde07e"/>
<rect x="134.46" y="376.47" width="5.3" height="1.95" fill="#fffcdc"/>
<rect x="134.46" y="378.42" width="5.3" height="3.8" fill="#f5f69c"/>
<rect x="134.46" y="382.22" width="5.3" height="2.86" fill="#b2ec80"/>
<rect x="134.46" y="385.08" width="5.3" height="0.34" fill="#34c4a0"/>
<rect x="134.46" y="385.42" width="5.3" height="0.49" fill="#12a0c4"/>
<rect x="134.46" y="385.91" width="5.3" height="0.59" fill="#2454bc"/>
<rect x="143.19" y="386.5" width="5.3" height="8.46" fill="#b80a3e"/>
<rect x="143.19" y="394.96" width="5.3" height="10.54" fill="#f23e49"/>
<rect x="143.19" y="405.5" width="5.3" height="9.15" fill="#f87730"/>
<rect x="143.19" y="414.66" width="5.3" height="10.66" fill="#fcb656"/>
<rect x="143.19" y="425.32" width="5.3" height="18.42" fill="#fde07e"/>
<rect x="143.19" y="443.74" width="5.3" height="8.23" fill="#fffcdc"/>
<rect x="143.19" y="451.96" width="5.3" height="19.12" fill="#f5f69c"/>
<rect x="143.19" y="471.08" width="5.3" height="24.68" fill="#b2ec80"/>
<rect x="143.19" y="495.76" width="5.3" height="1.39" fill="#34c4a0"/>
<rect x="143.19" y="497.15" width="5.3" height="3.01" fill="#12a0c4"/>
<rect x="143.19" y="500.16" width="5.3" height="2.09" fill="#2454bc"/>
<rect x="143.19" y="372.64" width="5.3" height="1.01" fill="#b80a3e"/>
<rect x="143.19" y="373.65" width="5.3" height="1.26" fill="#f23e49"/>
<rect x="143.19" y="374.92" width="5.3" height="1.1" fill="#f87730"/>
<rect x="143.19" y="376.01" width="5.3" height="1.28" fill="#fcb656"/>
<rect x="143.19" y="377.29" width="5.3" height="2.21" fill="#fde07e"/>
<rect x="143.19" y="379.49" width="5.3" height="0.99" fill="#fffcdc"/>
<rect x="143.19" y="380.48" width="5.3" height="2.29" fill="#f5f69c"/>
<rect x="143.19" y="382.77" width="5.3" height="2.96" fill="#b2ec80"/>
<rect x="143.19" y="385.72" width="5.3" height="0.17" fill="#34c4a0"/>
<rect x="143.19" y="385.89" width="5.3" height="0.36" fill="#12a0c4"/>
<rect x="143.19" y="386.25" width="5.3" height="0.25" fill="#2454bc"/>
<rect x="151.91" y="386.5" width="5.3" height="11.69" fill="#b80a3e"/>
<rect x="151.91" y="398.19" width="5.3" height="11.11" fill="#f23e49"/>
<rect x="151.91" y="409.3" width="5.3" height="9.49" fill="#f87730"/>
<rect x="151.91" y="418.79" width="5.3" height="14.93" fill="#fcb656"/>
<rect x="151.91" y="433.73" width="5.3" height="13.31" fill="#fde07e"/>
<rect x="151.91" y="447.04" width="5.3" height="6.13" fill="#fffcdc"/>
<rect x="151.91" y="453.17" width="5.3" height="16.09" fill="#f5f69c"/>
<rect x="151.91" y="469.26" width="5.3" height="23.38" fill="#b2ec80"/>
<rect x="151.91" y="492.64" width="5.3" height="2.08" fill="#34c4a0"/>
<rect x="151.91" y="494.73" width="5.3" height="2.78" fill="#12a0c4"/>
<rect x="151.91" y="497.5" width="5.3" height="4.75" fill="#2454bc"/>
<rect x="151.91" y="378.1" width="5.3" height="0.85" fill="#b80a3e"/>
<rect x="151.91" y="378.95" width="5.3" height="0.81" fill="#f23e49"/>
<rect x="151.91" y="379.75" width="5.3" height="0.69" fill="#f87730"/>
<rect x="151.91" y="380.44" width="5.3" height="1.08" fill="#fcb656"/>
<rect x="151.91" y="381.53" width="5.3" height="0.97" fill="#fde07e"/>
<rect x="151.91" y="382.49" width="5.3" height="0.45" fill="#fffcdc"/>
<rect x="151.91" y="382.94" width="5.3" height="1.17" fill="#f5f69c"/>
<rect x="151.91" y="384.11" width="5.3" height="1.7" fill="#b2ec80"/>
<rect x="151.91" y="385.8" width="5.3" height="0.15" fill="#34c4a0"/>
<rect x="151.91" y="385.95" width="5.3" height="0.2" fill="#12a0c4"/>
<rect x="151.91" y="386.16" width="5.3" height="0.34" fill="#2454bc"/>
<rect x="160.64" y="386.5" width="5.3" height="12.17" fill="#b80a3e"/>
<rect x="160.64" y="398.67" width="5.3" height="11.82" fill="#f23e49"/>
<rect x="160.64" y="410.48" width="5.3" height="10.31" fill="#f87730"/>
<rect x="160.64" y="420.8" width="5.3" height="6.84" fill="#fcb656"/>
<rect x="160.64" y="427.63" width="5.3" height="20.16" fill="#fde07e"/>
<rect x="160.64" y="447.79" width="5.3" height="5.79" fill="#fffcdc"/>
<rect x="160.64" y="453.59" width="5.3" height="22.48" fill="#f5f69c"/>
<rect x="160.64" y="476.06" width="5.3" height="19.7" fill="#b2ec80"/>
<rect x="160.64" y="495.76" width="5.3" height="1.74" fill="#34c4a0"/>
<rect x="160.64" y="497.5" width="5.3" height="2.32" fill="#12a0c4"/>
<rect x="160.64" y="499.82" width="5.3" height="2.43" fill="#2454bc"/>
<rect x="160.64" y="334.42" width="5.3" height="5.47" fill="#b80a3e"/>
<rect x="160.64" y="339.89" width="5.3" height="5.32" fill="#f23e49"/>
<rect x="160.64" y="345.21" width="5.3" height="4.64" fill="#f87730"/>
<rect x="160.64" y="349.85" width="5.3" height="3.08" fill="#fcb656"/>
<rect x="160.64" y="352.93" width="5.3" height="9.07" fill="#fde07e"/>
<rect x="160.64" y="362" width="5.3" height="2.61" fill="#fffcdc"/>
<rect x="160.64" y="364.6" width="5.3" height="10.11" fill="#f5f69c"/>
<rect x="160.64" y="374.72" width="5.3" height="8.86" fill="#b2ec80"/>
<rect x="160.64" y="383.58" width="5.3" height="0.78" fill="#34c4a0"/>
<rect x="160.64" y="384.36" width="5.3" height="1.04" fill="#12a0c4"/>
<rect x="160.64" y="385.41" width="5.3" height="1.09" fill="#2454bc"/>
<rect x="169.37" y="386.5" width="5.3" height="13.08" fill="#b80a3e"/>
<rect x="169.37" y="399.58" width="5.3" height="14.01" fill="#f23e49"/>
<rect x="169.37" y="413.59" width="5.3" height="9.14" fill="#f87730"/>
<rect x="169.37" y="422.73" width="5.3" height="9.84" fill="#fcb656"/>
<rect x="169.37" y="432.57" width="5.3" height="17.36" fill="#fde07e"/>
<rect x="169.37" y="449.93" width="5.3" height="7.41" fill="#fffcdc"/>
<rect x="169.37" y="457.34" width="5.3" height="19.56" fill="#f5f69c"/>
<rect x="169.37" y="476.9" width="5.3" height="19.45" fill="#b2ec80"/>
<rect x="169.37" y="496.35" width="5.3" height="1.74" fill="#34c4a0"/>
<rect x="169.37" y="498.08" width="5.3" height="2.08" fill="#12a0c4"/>
<rect x="169.37" y="500.17" width="5.3" height="2.08" fill="#2454bc"/>
<rect x="169.37" y="285.7" width="5.3" height="11.39" fill="#b80a3e"/>
<rect x="169.37" y="297.09" width="5.3" height="12.2" fill="#f23e49"/>
<rect x="169.37" y="309.29" width="5.3" height="7.96" fill="#f87730"/>
<rect x="169.37" y="317.25" width="5.3" height="8.57" fill="#fcb656"/>
<rect x="169.37" y="325.82" width="5.3" height="15.12" fill="#fde07e"/>
<rect x="169.37" y="340.94" width="5.3" height="6.45" fill="#fffcdc"/>
<rect x="169.37" y="347.39" width="5.3" height="17.04" fill="#f5f69c"/>
<rect x="169.37" y="364.42" width="5.3" height="16.93" fill="#b2ec80"/>
<rect x="169.37" y="381.36" width="5.3" height="1.51" fill="#34c4a0"/>
<rect x="169.37" y="382.87" width="5.3" height="1.81" fill="#12a0c4"/>
<rect x="169.37" y="384.69" width="5.3" height="1.81" fill="#2454bc"/>
<rect x="178.09" y="386.5" width="5.3" height="12.51" fill="#b80a3e"/>
<rect x="178.09" y="399.01" width="5.3" height="19.47" fill="#f23e49"/>
<rect x="178.09" y="418.48" width="5.3" height="7.99" fill="#f87730"/>
<rect x="178.09" y="426.47" width="5.3" height="7.99" fill="#fcb656"/>
<rect x="178.09" y="434.47" width="5.3" height="18.31" fill="#fde07e"/>
<rect x="178.09" y="452.78" width="5.3" height="6.84" fill="#fffcdc"/>
<rect x="178.09" y="459.61" width="5.3" height="16.68" fill="#f5f69c"/>
<rect x="178.09" y="476.3" width="5.3" height="20.04" fill="#b2ec80"/>
<rect x="178.09" y="496.34" width="5.3" height="1.51" fill="#34c4a0"/>
<rect x="178.09" y="497.85" width="5.3" height="1.97" fill="#12a0c4"/>
<rect x="178.09" y="499.82" width="5.3" height="2.43" fill="#2454bc"/>
<rect x="178.09" y="335.68" width="5.3" height="5.49" fill="#b80a3e"/>
<rect x="178.09" y="341.17" width="5.3" height="8.55" fill="#f23e49"/>
<rect x="178.09" y="349.72" width="5.3" height="3.51" fill="#f87730"/>
<rect x="178.09" y="353.23" width="5.3" height="3.51" fill="#fcb656"/>
<rect x="178.09" y="356.74" width="5.3" height="8.04" fill="#fde07e"/>
<rect x="178.09" y="364.78" width="5.3" height="3" fill="#fffcdc"/>
<rect x="178.09" y="367.78" width="5.3" height="7.33" fill="#f5f69c"/>
<rect x="178.09" y="375.1" width="5.3" height="8.8" fill="#b2ec80"/>
<rect x="178.09" y="383.91" width="5.3" height="0.66" fill="#34c4a0"/>
<rect x="178.09" y="384.57" width="5.3" height="0.86" fill="#12a0c4"/>
<rect x="178.09" y="385.43" width="5.3" height="1.07" fill="#2454bc"/>
</g>
<rect x="28" y="271.3" width="157" height="230.95" fill="none" stroke="#6e6e6e" stroke-width="1"/>
<line x1="28" y1="386.5" x2="185" y2="386.5" stroke="#181818" stroke-width="0.65"/>
<path d="M25.8 365.5H28 M25.8 344.5H28 M25.8 323.5H28 M25.8 302.5H28 M25.8 281.5H28 M26.7 376H28 M26.7 355H28 M26.7 334H28 M26.7 313H28 M26.7 292H28 M25.8 502.25H28 M25.8 479.1H28 M25.8 455.95H28 M25.8 432.8H28 M25.8 409.65H28 M26.7 490.68H28 M26.7 467.52H28 M26.7 444.38H28 M26.7 421.23H28 M26.7 398.07H28 M32.4 502.25v2 M41.13 502.25v2 M49.85 502.25v2 M58.58 502.25v2 M67.3 502.25v2 M76.03 502.25v2 M84.76 502.25v2 M93.48 502.25v2 M102.21 502.25v2 M110.93 502.25v2 M119.66 502.25v2 M128.39 502.25v2 M137.11 502.25v2 M145.84 502.25v2 M154.56 502.25v2 M163.29 502.25v2 M172.02 502.25v2 M180.74 502.25v2" stroke="#444" stroke-width="0.7" fill="none"/>
<g font-size="5.45" text-anchor="end" fill="#222" stroke="#222" stroke-width="0.05">
<text x="23.6" y="367.35">50</text>
<text x="23.6" y="346.35">100</text>
<text x="23.6" y="325.35">150</text>
<text x="23.6" y="304.35">200</text>
<text x="23.6" y="283.35">250</text>
<text x="23.6" y="504.1">0</text>
<text x="23.6" y="480.95">20</text>
<text x="23.6" y="457.8">40</text>
<text x="23.6" y="434.65">60</text>
<text x="23.6" y="411.5">80</text>
<text x="23.6" y="388.35">100</text>
</g>
<text transform="translate(10 328.9) rotate(-90)" font-size="7" text-anchor="middle" fill="#2a2a2a">Oxygenated-PAHs concentration (ng/m<tspan font-size="4.5" dy="-2.4">3</tspan><tspan dy="2.4">)</tspan></text>
<text transform="translate(10 444.38) rotate(-90)" font-size="7" text-anchor="middle" fill="#2a2a2a">Percentage (%)</text>
<text x="36.5" y="286.5" font-size="9.3" font-weight="bold" fill="#111">(c)</text>
<g font-size="4.55" font-weight="bold" text-anchor="end" fill="#151515" stroke="#151515" stroke-width="0.05">
<text transform="translate(35.4 508.05) rotate(-45)">15 March 2022 day</text>
<text transform="translate(44.13 508.05) rotate(-45)">15 March 2022 night</text>
<text transform="translate(52.85 508.05) rotate(-45)">16 March 2022 day</text>
<text transform="translate(61.58 508.05) rotate(-45)">16 March 2022 night</text>
<text transform="translate(70.3 508.05) rotate(-45)">17 March 2022 day</text>
<text transform="translate(79.03 508.05) rotate(-45)">17 March 2022 night</text>
<text transform="translate(87.76 508.05) rotate(-45)">18 March 2022 day</text>
<text transform="translate(96.48 508.05) rotate(-45)">18 March 2022 night</text>
<text transform="translate(105.21 508.05) rotate(-45)">19 March 2022 day</text>
<text transform="translate(113.93 508.05) rotate(-45)">19 March 2022 night</text>
<text transform="translate(122.66 508.05) rotate(-45)">20 March 2022 day</text>
<text transform="translate(131.39 508.05) rotate(-45)">20 March 2022 night</text>
<text transform="translate(140.11 508.05) rotate(-45)">21 March 2022 day</text>
<text transform="translate(148.84 508.05) rotate(-45)">21 March 2022 night</text>
<text transform="translate(157.56 508.05) rotate(-45)">22 March 2022 day</text>
<text transform="translate(166.29 508.05) rotate(-45)">22 March 2022 night</text>
<text transform="translate(175.02 508.05) rotate(-45)">23 March 2022 day</text>
<text transform="translate(183.74 508.05) rotate(-45)">23 March 2022 night</text>
</g>
<text x="107" y="546" font-size="7" text-anchor="middle" fill="#2a2a2a">Time</text>
<g font-size="5.6" fill="#111">
<rect x="192" y="347.65" width="13.1" height="5.9" fill="#b80a3e" stroke="#a8a8a8" stroke-width="0.5"/>
<text x="206.6" y="352.45" stroke="#111" stroke-width="0.12">BZA</text>
<rect x="192" y="354.97" width="13.1" height="5.9" fill="#f23e49" stroke="#a8a8a8" stroke-width="0.5"/>
<text x="206.6" y="359.77" stroke="#111" stroke-width="0.12">6H-BcdPO</text>
<rect x="192" y="362.29" width="13.1" height="5.9" fill="#f87730" stroke="#a8a8a8" stroke-width="0.5"/>
<text x="206.6" y="367.09" stroke="#111" stroke-width="0.12">5,12-NAAQ</text>
<rect x="192" y="369.61" width="13.1" height="5.9" fill="#fcb656" stroke="#a8a8a8" stroke-width="0.5"/>
<text x="206.6" y="374.41" stroke="#111" stroke-width="0.12">1,4-CHRQ</text>
<rect x="192" y="376.93" width="13.1" height="5.9" fill="#fde07e" stroke="#a8a8a8" stroke-width="0.5"/>
<text x="206.6" y="381.73" stroke="#111" stroke-width="0.12">BaAQ</text>
<rect x="192" y="384.25" width="13.1" height="5.9" fill="#fffcdc" stroke="#a8a8a8" stroke-width="0.5"/>
<text x="206.6" y="389.05" stroke="#111" stroke-width="0.12">1,8-NAA</text>
<rect x="192" y="391.57" width="13.1" height="5.9" fill="#f5f69c" stroke="#a8a8a8" stroke-width="0.5"/>
<text x="206.6" y="396.37" stroke="#111" stroke-width="0.12">9,10-ATQ</text>
<rect x="192" y="398.89" width="13.1" height="5.9" fill="#b2ec80" stroke="#a8a8a8" stroke-width="0.5"/>
<text x="206.6" y="403.69" stroke="#111" stroke-width="0.12">9-FO</text>
<rect x="192" y="406.21" width="13.1" height="5.9" fill="#34c4a0" stroke="#a8a8a8" stroke-width="0.5"/>
<text x="206.6" y="411.01" stroke="#111" stroke-width="0.12">1-ACO</text>
<rect x="192" y="413.53" width="13.1" height="5.9" fill="#12a0c4" stroke="#a8a8a8" stroke-width="0.5"/>
<text x="206.6" y="418.33" stroke="#111" stroke-width="0.12">1-NAA</text>
<rect x="192" y="420.85" width="13.1" height="5.9" fill="#2454bc" stroke="#a8a8a8" stroke-width="0.5"/>
<text x="206.6" y="425.65" stroke="#111" stroke-width="0.12">1,4-NAQ</text>
</g>
<g stroke="#000" stroke-width="0.2">
<rect x="265.35" y="386.5" width="5.3" height="10.2" fill="#640a4e"/>
<rect x="265.35" y="396.7" width="5.3" height="11.47" fill="#a0205a"/>
<rect x="265.35" y="408.17" width="5.3" height="7.42" fill="#d85a60"/>
<rect x="265.35" y="415.58" width="5.3" height="6.03" fill="#ff6a45"/>
<rect x="265.35" y="421.61" width="5.3" height="7.53" fill="#ffaa88"/>
<rect x="265.35" y="429.14" width="5.3" height="12.63" fill="#ffe4d0"/>
<rect x="265.35" y="441.77" width="5.3" height="11.82" fill="#e8f8fa"/>
<rect x="265.35" y="453.59" width="5.3" height="16.45" fill="#ddddd5"/>
<rect x="265.35" y="470.04" width="5.3" height="3.71" fill="#88cc99"/>
<rect x="265.35" y="473.75" width="5.3" height="5.45" fill="#159e80"/>
<rect x="265.35" y="479.19" width="5.3" height="6.49" fill="#0e6468"/>
<rect x="265.35" y="485.68" width="5.3" height="16.57" fill="#0e2a48"/>
<rect x="265.35" y="339.65" width="5.3" height="4.13" fill="#640a4e"/>
<rect x="265.35" y="343.78" width="5.3" height="4.64" fill="#a0205a"/>
<rect x="265.35" y="348.42" width="5.3" height="3" fill="#d85a60"/>
<rect x="265.35" y="351.42" width="5.3" height="2.44" fill="#ff6a45"/>
<rect x="265.35" y="353.86" width="5.3" height="3.05" fill="#ffaa88"/>
<rect x="265.35" y="356.91" width="5.3" height="5.11" fill="#ffe4d0"/>
<rect x="265.35" y="362.02" width="5.3" height="4.78" fill="#e8f8fa"/>
<rect x="265.35" y="366.8" width="5.3" height="6.66" fill="#ddddd5"/>
<rect x="265.35" y="373.46" width="5.3" height="1.5" fill="#88cc99"/>
<rect x="265.35" y="374.96" width="5.3" height="2.2" fill="#159e80"/>
<rect x="265.35" y="377.17" width="5.3" height="2.63" fill="#0e6468"/>
<rect x="265.35" y="379.79" width="5.3" height="6.71" fill="#0e2a48"/>
<rect x="274.07" y="386.5" width="5.3" height="10.2" fill="#640a4e"/>
<rect x="274.07" y="396.7" width="5.3" height="9.5" fill="#a0205a"/>
<rect x="274.07" y="406.2" width="5.3" height="7.3" fill="#d85a60"/>
<rect x="274.07" y="413.5" width="5.3" height="6.14" fill="#ff6a45"/>
<rect x="274.07" y="419.64" width="5.3" height="4.98" fill="#ffaa88"/>
<rect x="274.07" y="424.62" width="5.3" height="7.99" fill="#ffe4d0"/>
<rect x="274.07" y="432.61" width="5.3" height="11.12" fill="#e8f8fa"/>
<rect x="274.07" y="443.74" width="5.3" height="27" fill="#ddddd5"/>
<rect x="274.07" y="470.73" width="5.3" height="5.79" fill="#88cc99"/>
<rect x="274.07" y="476.53" width="5.3" height="6.14" fill="#159e80"/>
<rect x="274.07" y="482.67" width="5.3" height="9.96" fill="#0e6468"/>
<rect x="274.07" y="492.63" width="5.3" height="9.62" fill="#0e2a48"/>
<rect x="274.07" y="358.66" width="5.3" height="2.45" fill="#640a4e"/>
<rect x="274.07" y="361.11" width="5.3" height="2.29" fill="#a0205a"/>
<rect x="274.07" y="363.4" width="5.3" height="1.76" fill="#d85a60"/>
<rect x="274.07" y="365.15" width="5.3" height="1.48" fill="#ff6a45"/>
<rect x="274.07" y="366.63" width="5.3" height="1.2" fill="#ffaa88"/>
<rect x="274.07" y="367.83" width="5.3" height="1.92" fill="#ffe4d0"/>
<rect x="274.07" y="369.75" width="5.3" height="2.68" fill="#e8f8fa"/>
<rect x="274.07" y="372.43" width="5.3" height="6.49" fill="#ddddd5"/>
<rect x="274.07" y="378.92" width="5.3" height="1.39" fill="#88cc99"/>
<rect x="274.07" y="380.31" width="5.3" height="1.48" fill="#159e80"/>
<rect x="274.07" y="381.79" width="5.3" height="2.4" fill="#0e6468"/>
<rect x="274.07" y="384.19" width="5.3" height="2.31" fill="#0e2a48"/>
<rect x="282.78" y="386.5" width="5.3" height="8.7" fill="#640a4e"/>
<rect x="282.78" y="395.2" width="5.3" height="8.35" fill="#a0205a"/>
<rect x="282.78" y="403.55" width="5.3" height="7.19" fill="#d85a60"/>
<rect x="282.78" y="410.74" width="5.3" height="3.94" fill="#ff6a45"/>
<rect x="282.78" y="414.68" width="5.3" height="7.77" fill="#ffaa88"/>
<rect x="282.78" y="422.45" width="5.3" height="8.23" fill="#ffe4d0"/>
<rect x="282.78" y="430.69" width="5.3" height="11.02" fill="#e8f8fa"/>
<rect x="282.78" y="441.71" width="5.3" height="24.82" fill="#ddddd5"/>
<rect x="282.78" y="466.53" width="5.3" height="4.18" fill="#88cc99"/>
<rect x="282.78" y="470.7" width="5.3" height="6.96" fill="#159e80"/>
<rect x="282.78" y="477.66" width="5.3" height="14.15" fill="#0e6468"/>
<rect x="282.78" y="491.81" width="5.3" height="10.44" fill="#0e2a48"/>
<rect x="282.78" y="358.95" width="5.3" height="2.07" fill="#640a4e"/>
<rect x="282.78" y="361.02" width="5.3" height="1.99" fill="#a0205a"/>
<rect x="282.78" y="363.01" width="5.3" height="1.71" fill="#d85a60"/>
<rect x="282.78" y="364.72" width="5.3" height="0.94" fill="#ff6a45"/>
<rect x="282.78" y="365.66" width="5.3" height="1.85" fill="#ffaa88"/>
<rect x="282.78" y="367.51" width="5.3" height="1.96" fill="#ffe4d0"/>
<rect x="282.78" y="369.47" width="5.3" height="2.62" fill="#e8f8fa"/>
<rect x="282.78" y="372.09" width="5.3" height="5.91" fill="#ddddd5"/>
<rect x="282.78" y="378" width="5.3" height="0.99" fill="#88cc99"/>
<rect x="282.78" y="378.99" width="5.3" height="1.66" fill="#159e80"/>
<rect x="282.78" y="380.65" width="5.3" height="3.37" fill="#0e6468"/>
<rect x="282.78" y="384.02" width="5.3" height="2.48" fill="#0e2a48"/>
<rect x="300.21" y="386.5" width="5.3" height="7.07" fill="#640a4e"/>
<rect x="300.21" y="393.57" width="5.3" height="7.07" fill="#a0205a"/>
<rect x="300.21" y="400.64" width="5.3" height="10.89" fill="#d85a60"/>
<rect x="300.21" y="411.53" width="5.3" height="4.98" fill="#ff6a45"/>
<rect x="300.21" y="416.51" width="5.3" height="7.3" fill="#ffaa88"/>
<rect x="300.21" y="423.81" width="5.3" height="11.01" fill="#ffe4d0"/>
<rect x="300.21" y="434.82" width="5.3" height="11.01" fill="#e8f8fa"/>
<rect x="300.21" y="445.82" width="5.3" height="24.91" fill="#ddddd5"/>
<rect x="300.21" y="470.73" width="5.3" height="6.14" fill="#88cc99"/>
<rect x="300.21" y="476.88" width="5.3" height="6.84" fill="#159e80"/>
<rect x="300.21" y="483.71" width="5.3" height="8.11" fill="#0e6468"/>
<rect x="300.21" y="491.82" width="5.3" height="10.43" fill="#0e2a48"/>
<rect x="300.21" y="376.32" width="5.3" height="0.62" fill="#640a4e"/>
<rect x="300.21" y="376.95" width="5.3" height="0.62" fill="#a0205a"/>
<rect x="300.21" y="377.57" width="5.3" height="0.96" fill="#d85a60"/>
<rect x="300.21" y="378.52" width="5.3" height="0.44" fill="#ff6a45"/>
<rect x="300.21" y="378.96" width="5.3" height="0.64" fill="#ffaa88"/>
<rect x="300.21" y="379.6" width="5.3" height="0.97" fill="#ffe4d0"/>
<rect x="300.21" y="380.57" width="5.3" height="0.97" fill="#e8f8fa"/>
<rect x="300.21" y="381.54" width="5.3" height="2.19" fill="#ddddd5"/>
<rect x="300.21" y="383.73" width="5.3" height="0.54" fill="#88cc99"/>
<rect x="300.21" y="384.27" width="5.3" height="0.6" fill="#159e80"/>
<rect x="300.21" y="384.87" width="5.3" height="0.71" fill="#0e6468"/>
<rect x="300.21" y="385.58" width="5.3" height="0.92" fill="#0e2a48"/>
<rect x="308.93" y="386.5" width="5.3" height="9.62" fill="#640a4e"/>
<rect x="308.93" y="396.12" width="5.3" height="8.57" fill="#a0205a"/>
<rect x="308.93" y="404.69" width="5.3" height="11.47" fill="#d85a60"/>
<rect x="308.93" y="416.16" width="5.3" height="6.37" fill="#ff6a45"/>
<rect x="308.93" y="422.53" width="5.3" height="7.07" fill="#ffaa88"/>
<rect x="308.93" y="429.6" width="5.3" height="10.08" fill="#ffe4d0"/>
<rect x="308.93" y="439.68" width="5.3" height="9.96" fill="#e8f8fa"/>
<rect x="308.93" y="449.65" width="5.3" height="23.4" fill="#ddddd5"/>
<rect x="308.93" y="473.05" width="5.3" height="4.4" fill="#88cc99"/>
<rect x="308.93" y="477.45" width="5.3" height="4.4" fill="#159e80"/>
<rect x="308.93" y="481.86" width="5.3" height="7.99" fill="#0e6468"/>
<rect x="308.93" y="489.85" width="5.3" height="12.4" fill="#0e2a48"/>
<rect x="308.93" y="372.87" width="5.3" height="1.13" fill="#640a4e"/>
<rect x="308.93" y="374" width="5.3" height="1.01" fill="#a0205a"/>
<rect x="308.93" y="375.01" width="5.3" height="1.35" fill="#d85a60"/>
<rect x="308.93" y="376.36" width="5.3" height="0.75" fill="#ff6a45"/>
<rect x="308.93" y="377.11" width="5.3" height="0.83" fill="#ffaa88"/>
<rect x="308.93" y="377.94" width="5.3" height="1.19" fill="#ffe4d0"/>
<rect x="308.93" y="379.13" width="5.3" height="1.17" fill="#e8f8fa"/>
<rect x="308.93" y="380.3" width="5.3" height="2.76" fill="#ddddd5"/>
<rect x="308.93" y="383.06" width="5.3" height="0.52" fill="#88cc99"/>
<rect x="308.93" y="383.58" width="5.3" height="0.52" fill="#159e80"/>
<rect x="308.93" y="384.1" width="5.3" height="0.94" fill="#0e6468"/>
<rect x="308.93" y="385.04" width="5.3" height="1.46" fill="#0e2a48"/>
<rect x="317.65" y="386.5" width="5.3" height="8.23" fill="#640a4e"/>
<rect x="317.65" y="394.73" width="5.3" height="7.07" fill="#a0205a"/>
<rect x="317.65" y="401.79" width="5.3" height="5.79" fill="#d85a60"/>
<rect x="317.65" y="407.59" width="5.3" height="3.24" fill="#ff6a45"/>
<rect x="317.65" y="410.83" width="5.3" height="7.07" fill="#ffaa88"/>
<rect x="317.65" y="417.9" width="5.3" height="7.76" fill="#ffe4d0"/>
<rect x="317.65" y="425.66" width="5.3" height="8.23" fill="#e8f8fa"/>
<rect x="317.65" y="433.89" width="5.3" height="35.8" fill="#ddddd5"/>
<rect x="317.65" y="469.69" width="5.3" height="4.87" fill="#88cc99"/>
<rect x="317.65" y="474.56" width="5.3" height="8.11" fill="#159e80"/>
<rect x="317.65" y="482.67" width="5.3" height="7.65" fill="#0e6468"/>
<rect x="317.65" y="490.32" width="5.3" height="11.93" fill="#0e2a48"/>
<rect x="317.65" y="347.14" width="5.3" height="2.8" fill="#640a4e"/>
<rect x="317.65" y="349.94" width="5.3" height="2.4" fill="#a0205a"/>
<rect x="317.65" y="352.34" width="5.3" height="1.97" fill="#d85a60"/>
<rect x="317.65" y="354.31" width="5.3" height="1.1" fill="#ff6a45"/>
<rect x="317.65" y="355.41" width="5.3" height="2.4" fill="#ffaa88"/>
<rect x="317.65" y="357.82" width="5.3" height="2.64" fill="#ffe4d0"/>
<rect x="317.65" y="360.46" width="5.3" height="2.8" fill="#e8f8fa"/>
<rect x="317.65" y="363.25" width="5.3" height="12.17" fill="#ddddd5"/>
<rect x="317.65" y="375.43" width="5.3" height="1.65" fill="#88cc99"/>
<rect x="317.65" y="377.08" width="5.3" height="2.76" fill="#159e80"/>
<rect x="317.65" y="379.84" width="5.3" height="2.6" fill="#0e6468"/>
<rect x="317.65" y="382.44" width="5.3" height="4.06" fill="#0e2a48"/>
<rect x="326.36" y="386.5" width="5.3" height="9.61" fill="#640a4e"/>
<rect x="326.36" y="396.11" width="5.3" height="8.91" fill="#a0205a"/>
<rect x="326.36" y="405.02" width="5.3" height="4.63" fill="#d85a60"/>
<rect x="326.36" y="409.65" width="5.3" height="2.78" fill="#ff6a45"/>
<rect x="326.36" y="412.43" width="5.3" height="6.37" fill="#ffaa88"/>
<rect x="326.36" y="418.79" width="5.3" height="6.02" fill="#ffe4d0"/>
<rect x="326.36" y="424.81" width="5.3" height="8.91" fill="#e8f8fa"/>
<rect x="326.36" y="433.73" width="5.3" height="36.81" fill="#ddddd5"/>
<rect x="326.36" y="470.53" width="5.3" height="4.4" fill="#88cc99"/>
<rect x="326.36" y="474.93" width="5.3" height="4.63" fill="#159e80"/>
<rect x="326.36" y="479.56" width="5.3" height="9.38" fill="#0e6468"/>
<rect x="326.36" y="488.94" width="5.3" height="13.31" fill="#0e2a48"/>
<rect x="326.36" y="344.26" width="5.3" height="3.51" fill="#640a4e"/>
<rect x="326.36" y="347.77" width="5.3" height="3.25" fill="#a0205a"/>
<rect x="326.36" y="351.02" width="5.3" height="1.69" fill="#d85a60"/>
<rect x="326.36" y="352.71" width="5.3" height="1.01" fill="#ff6a45"/>
<rect x="326.36" y="353.72" width="5.3" height="2.32" fill="#ffaa88"/>
<rect x="326.36" y="356.04" width="5.3" height="2.2" fill="#ffe4d0"/>
<rect x="326.36" y="358.24" width="5.3" height="3.25" fill="#e8f8fa"/>
<rect x="326.36" y="361.49" width="5.3" height="13.43" fill="#ddddd5"/>
<rect x="326.36" y="374.93" width="5.3" height="1.61" fill="#88cc99"/>
<rect x="326.36" y="376.53" width="5.3" height="1.69" fill="#159e80"/>
<rect x="326.36" y="378.22" width="5.3" height="3.42" fill="#0e6468"/>
<rect x="326.36" y="381.64" width="5.3" height="4.86" fill="#0e2a48"/>
<rect x="335.08" y="386.5" width="5.3" height="10.2" fill="#640a4e"/>
<rect x="335.08" y="396.7" width="5.3" height="7.42" fill="#a0205a"/>
<rect x="335.08" y="404.11" width="5.3" height="12.63" fill="#d85a60"/>
<rect x="335.08" y="416.74" width="5.3" height="4.06" fill="#ff6a45"/>
<rect x="335.08" y="420.8" width="5.3" height="5.45" fill="#ffaa88"/>
<rect x="335.08" y="426.24" width="5.3" height="7.99" fill="#ffe4d0"/>
<rect x="335.08" y="434.24" width="5.3" height="7.18" fill="#e8f8fa"/>
<rect x="335.08" y="441.42" width="5.3" height="28.27" fill="#ddddd5"/>
<rect x="335.08" y="469.69" width="5.3" height="3.71" fill="#88cc99"/>
<rect x="335.08" y="473.4" width="5.3" height="6.95" fill="#159e80"/>
<rect x="335.08" y="480.35" width="5.3" height="7.18" fill="#0e6468"/>
<rect x="335.08" y="487.54" width="5.3" height="14.71" fill="#0e2a48"/>
<rect x="335.08" y="345.7" width="5.3" height="3.59" fill="#640a4e"/>
<rect x="335.08" y="349.29" width="5.3" height="2.61" fill="#a0205a"/>
<rect x="335.08" y="351.91" width="5.3" height="4.45" fill="#d85a60"/>
<rect x="335.08" y="356.36" width="5.3" height="1.43" fill="#ff6a45"/>
<rect x="335.08" y="357.79" width="5.3" height="1.92" fill="#ffaa88"/>
<rect x="335.08" y="359.71" width="5.3" height="2.82" fill="#ffe4d0"/>
<rect x="335.08" y="362.53" width="5.3" height="2.53" fill="#e8f8fa"/>
<rect x="335.08" y="365.06" width="5.3" height="9.97" fill="#ddddd5"/>
<rect x="335.08" y="375.02" width="5.3" height="1.31" fill="#88cc99"/>
<rect x="335.08" y="376.33" width="5.3" height="2.45" fill="#159e80"/>
<rect x="335.08" y="378.78" width="5.3" height="2.53" fill="#0e6468"/>
<rect x="335.08" y="381.31" width="5.3" height="5.19" fill="#0e2a48"/>
<rect x="343.79" y="386.5" width="5.3" height="11.93" fill="#640a4e"/>
<rect x="343.79" y="398.43" width="5.3" height="7.07" fill="#a0205a"/>
<rect x="343.79" y="405.5" width="5.3" height="7.99" fill="#d85a60"/>
<rect x="343.79" y="413.5" width="5.3" height="4.17" fill="#ff6a45"/>
<rect x="343.79" y="417.67" width="5.3" height="8.81" fill="#ffaa88"/>
<rect x="343.79" y="426.47" width="5.3" height="9.15" fill="#ffe4d0"/>
<rect x="343.79" y="435.63" width="5.3" height="10.2" fill="#e8f8fa"/>
<rect x="343.79" y="445.82" width="5.3" height="20.74" fill="#ddddd5"/>
<rect x="343.79" y="466.56" width="5.3" height="3.94" fill="#88cc99"/>
<rect x="343.79" y="470.5" width="5.3" height="5.79" fill="#159e80"/>
<rect x="343.79" y="476.3" width="5.3" height="10.54" fill="#0e6468"/>
<rect x="343.79" y="486.84" width="5.3" height="15.41" fill="#0e2a48"/>
<rect x="343.79" y="349.44" width="5.3" height="3.82" fill="#640a4e"/>
<rect x="343.79" y="353.26" width="5.3" height="2.26" fill="#a0205a"/>
<rect x="343.79" y="355.53" width="5.3" height="2.56" fill="#d85a60"/>
<rect x="343.79" y="358.09" width="5.3" height="1.34" fill="#ff6a45"/>
<rect x="343.79" y="359.42" width="5.3" height="2.82" fill="#ffaa88"/>
<rect x="343.79" y="362.24" width="5.3" height="2.93" fill="#ffe4d0"/>
<rect x="343.79" y="365.17" width="5.3" height="3.26" fill="#e8f8fa"/>
<rect x="343.79" y="368.44" width="5.3" height="6.64" fill="#ddddd5"/>
<rect x="343.79" y="375.08" width="5.3" height="1.26" fill="#88cc99"/>
<rect x="343.79" y="376.34" width="5.3" height="1.85" fill="#159e80"/>
<rect x="343.79" y="378.19" width="5.3" height="3.38" fill="#0e6468"/>
<rect x="343.79" y="381.57" width="5.3" height="4.93" fill="#0e2a48"/>
<rect x="352.51" y="386.5" width="5.3" height="11.7" fill="#640a4e"/>
<rect x="352.51" y="398.2" width="5.3" height="11.93" fill="#a0205a"/>
<rect x="352.51" y="410.14" width="5.3" height="7.53" fill="#d85a60"/>
<rect x="352.51" y="417.67" width="5.3" height="3.94" fill="#ff6a45"/>
<rect x="352.51" y="421.61" width="5.3" height="10.31" fill="#ffaa88"/>
<rect x="352.51" y="431.92" width="5.3" height="8.34" fill="#ffe4d0"/>
<rect x="352.51" y="440.26" width="5.3" height="8.23" fill="#e8f8fa"/>
<rect x="352.51" y="448.49" width="5.3" height="24.33" fill="#ddddd5"/>
<rect x="352.51" y="472.82" width="5.3" height="5.21" fill="#88cc99"/>
<rect x="352.51" y="478.03" width="5.3" height="4.29" fill="#159e80"/>
<rect x="352.51" y="482.32" width="5.3" height="8.92" fill="#0e6468"/>
<rect x="352.51" y="491.24" width="5.3" height="11.01" fill="#0e2a48"/>
<rect x="352.51" y="353.28" width="5.3" height="3.36" fill="#640a4e"/>
<rect x="352.51" y="356.64" width="5.3" height="3.42" fill="#a0205a"/>
<rect x="352.51" y="360.07" width="5.3" height="2.16" fill="#d85a60"/>
<rect x="352.51" y="362.23" width="5.3" height="1.13" fill="#ff6a45"/>
<rect x="352.51" y="363.36" width="5.3" height="2.96" fill="#ffaa88"/>
<rect x="352.51" y="366.32" width="5.3" height="2.39" fill="#ffe4d0"/>
<rect x="352.51" y="368.71" width="5.3" height="2.36" fill="#e8f8fa"/>
<rect x="352.51" y="371.07" width="5.3" height="6.98" fill="#ddddd5"/>
<rect x="352.51" y="378.05" width="5.3" height="1.5" fill="#88cc99"/>
<rect x="352.51" y="379.55" width="5.3" height="1.23" fill="#159e80"/>
<rect x="352.51" y="380.78" width="5.3" height="2.56" fill="#0e6468"/>
<rect x="352.51" y="383.34" width="5.3" height="3.16" fill="#0e2a48"/>
<rect x="361.23" y="386.5" width="5.3" height="6.26" fill="#640a4e"/>
<rect x="361.23" y="392.76" width="5.3" height="6.84" fill="#a0205a"/>
<rect x="361.23" y="399.59" width="5.3" height="4.87" fill="#d85a60"/>
<rect x="361.23" y="404.46" width="5.3" height="3.24" fill="#ff6a45"/>
<rect x="361.23" y="407.7" width="5.3" height="7.42" fill="#ffaa88"/>
<rect x="361.23" y="415.12" width="5.3" height="6.49" fill="#ffe4d0"/>
<rect x="361.23" y="421.61" width="5.3" height="8.92" fill="#e8f8fa"/>
<rect x="361.23" y="430.53" width="5.3" height="37.19" fill="#ddddd5"/>
<rect x="361.23" y="467.72" width="5.3" height="3.94" fill="#88cc99"/>
<rect x="361.23" y="471.66" width="5.3" height="4.87" fill="#159e80"/>
<rect x="361.23" y="476.53" width="5.3" height="9.5" fill="#0e6468"/>
<rect x="361.23" y="486.03" width="5.3" height="16.22" fill="#0e2a48"/>
<rect x="361.23" y="351.75" width="5.3" height="1.88" fill="#640a4e"/>
<rect x="361.23" y="353.63" width="5.3" height="2.05" fill="#a0205a"/>
<rect x="361.23" y="355.68" width="5.3" height="1.46" fill="#d85a60"/>
<rect x="361.23" y="357.14" width="5.3" height="0.97" fill="#ff6a45"/>
<rect x="361.23" y="358.11" width="5.3" height="2.23" fill="#ffaa88"/>
<rect x="361.23" y="360.34" width="5.3" height="1.95" fill="#ffe4d0"/>
<rect x="361.23" y="362.29" width="5.3" height="2.68" fill="#e8f8fa"/>
<rect x="361.23" y="364.97" width="5.3" height="11.17" fill="#ddddd5"/>
<rect x="361.23" y="376.13" width="5.3" height="1.18" fill="#88cc99"/>
<rect x="361.23" y="377.32" width="5.3" height="1.46" fill="#159e80"/>
<rect x="361.23" y="378.78" width="5.3" height="2.85" fill="#0e6468"/>
<rect x="361.23" y="381.63" width="5.3" height="4.87" fill="#0e2a48"/>
<rect x="369.94" y="386.5" width="5.3" height="11.7" fill="#640a4e"/>
<rect x="369.94" y="398.2" width="5.3" height="8.46" fill="#a0205a"/>
<rect x="369.94" y="406.66" width="5.3" height="6.14" fill="#d85a60"/>
<rect x="369.94" y="412.8" width="5.3" height="5.21" fill="#ff6a45"/>
<rect x="369.94" y="418.02" width="5.3" height="8.92" fill="#ffaa88"/>
<rect x="369.94" y="426.94" width="5.3" height="6.84" fill="#ffe4d0"/>
<rect x="369.94" y="433.77" width="5.3" height="9.39" fill="#e8f8fa"/>
<rect x="369.94" y="443.16" width="5.3" height="26.53" fill="#ddddd5"/>
<rect x="369.94" y="469.69" width="5.3" height="4.29" fill="#88cc99"/>
<rect x="369.94" y="473.98" width="5.3" height="6.72" fill="#159e80"/>
<rect x="369.94" y="480.7" width="5.3" height="7.07" fill="#0e6468"/>
<rect x="369.94" y="487.77" width="5.3" height="14.48" fill="#0e2a48"/>
<rect x="369.94" y="355.88" width="5.3" height="3.1" fill="#640a4e"/>
<rect x="369.94" y="358.97" width="5.3" height="2.24" fill="#a0205a"/>
<rect x="369.94" y="361.21" width="5.3" height="1.62" fill="#d85a60"/>
<rect x="369.94" y="362.83" width="5.3" height="1.38" fill="#ff6a45"/>
<rect x="369.94" y="364.21" width="5.3" height="2.36" fill="#ffaa88"/>
<rect x="369.94" y="366.57" width="5.3" height="1.81" fill="#ffe4d0"/>
<rect x="369.94" y="368.38" width="5.3" height="2.48" fill="#e8f8fa"/>
<rect x="369.94" y="370.87" width="5.3" height="7.02" fill="#ddddd5"/>
<rect x="369.94" y="377.89" width="5.3" height="1.13" fill="#88cc99"/>
<rect x="369.94" y="379.02" width="5.3" height="1.78" fill="#159e80"/>
<rect x="369.94" y="380.8" width="5.3" height="1.87" fill="#0e6468"/>
<rect x="369.94" y="382.67" width="5.3" height="3.83" fill="#0e2a48"/>
<rect x="378.66" y="386.5" width="5.3" height="13.32" fill="#640a4e"/>
<rect x="378.66" y="399.82" width="5.3" height="8.69" fill="#a0205a"/>
<rect x="378.66" y="408.51" width="5.3" height="7.07" fill="#d85a60"/>
<rect x="378.66" y="415.58" width="5.3" height="5.21" fill="#ff6a45"/>
<rect x="378.66" y="420.8" width="5.3" height="8.81" fill="#ffaa88"/>
<rect x="378.66" y="429.6" width="5.3" height="9.5" fill="#ffe4d0"/>
<rect x="378.66" y="439.1" width="5.3" height="8.46" fill="#e8f8fa"/>
<rect x="378.66" y="447.56" width="5.3" height="22.13" fill="#ddddd5"/>
<rect x="378.66" y="469.69" width="5.3" height="3.71" fill="#88cc99"/>
<rect x="378.66" y="473.4" width="5.3" height="6.37" fill="#159e80"/>
<rect x="378.66" y="479.77" width="5.3" height="8.92" fill="#0e6468"/>
<rect x="378.66" y="488.69" width="5.3" height="13.56" fill="#0e2a48"/>
<rect x="378.66" y="367.3" width="5.3" height="2.21" fill="#640a4e"/>
<rect x="378.66" y="369.51" width="5.3" height="1.44" fill="#a0205a"/>
<rect x="378.66" y="370.95" width="5.3" height="1.17" fill="#d85a60"/>
<rect x="378.66" y="372.12" width="5.3" height="0.86" fill="#ff6a45"/>
<rect x="378.66" y="372.99" width="5.3" height="1.46" fill="#ffaa88"/>
<rect x="378.66" y="374.45" width="5.3" height="1.58" fill="#ffe4d0"/>
<rect x="378.66" y="376.03" width="5.3" height="1.4" fill="#e8f8fa"/>
<rect x="378.66" y="377.43" width="5.3" height="3.67" fill="#ddddd5"/>
<rect x="378.66" y="381.1" width="5.3" height="0.62" fill="#88cc99"/>
<rect x="378.66" y="381.71" width="5.3" height="1.06" fill="#159e80"/>
<rect x="378.66" y="382.77" width="5.3" height="1.48" fill="#0e6468"/>
<rect x="378.66" y="384.25" width="5.3" height="2.25" fill="#0e2a48"/>
<rect x="387.37" y="386.5" width="5.3" height="9.85" fill="#640a4e"/>
<rect x="387.37" y="396.35" width="5.3" height="10.08" fill="#a0205a"/>
<rect x="387.37" y="406.43" width="5.3" height="8.23" fill="#d85a60"/>
<rect x="387.37" y="414.66" width="5.3" height="4.98" fill="#ff6a45"/>
<rect x="387.37" y="419.64" width="5.3" height="7.18" fill="#ffaa88"/>
<rect x="387.37" y="426.82" width="5.3" height="8.81" fill="#ffe4d0"/>
<rect x="387.37" y="435.63" width="5.3" height="9.62" fill="#e8f8fa"/>
<rect x="387.37" y="445.24" width="5.3" height="23.06" fill="#ddddd5"/>
<rect x="387.37" y="468.3" width="5.3" height="4.29" fill="#88cc99"/>
<rect x="387.37" y="472.59" width="5.3" height="6.26" fill="#159e80"/>
<rect x="387.37" y="478.85" width="5.3" height="9.15" fill="#0e6468"/>
<rect x="387.37" y="488" width="5.3" height="14.25" fill="#0e2a48"/>
<rect x="387.37" y="375.94" width="5.3" height="0.9" fill="#640a4e"/>
<rect x="387.37" y="376.84" width="5.3" height="0.92" fill="#a0205a"/>
<rect x="387.37" y="377.76" width="5.3" height="0.75" fill="#d85a60"/>
<rect x="387.37" y="378.51" width="5.3" height="0.45" fill="#ff6a45"/>
<rect x="387.37" y="378.96" width="5.3" height="0.66" fill="#ffaa88"/>
<rect x="387.37" y="379.62" width="5.3" height="0.8" fill="#ffe4d0"/>
<rect x="387.37" y="380.42" width="5.3" height="0.88" fill="#e8f8fa"/>
<rect x="387.37" y="381.3" width="5.3" height="2.1" fill="#ddddd5"/>
<rect x="387.37" y="383.4" width="5.3" height="0.39" fill="#88cc99"/>
<rect x="387.37" y="383.79" width="5.3" height="0.57" fill="#159e80"/>
<rect x="387.37" y="384.36" width="5.3" height="0.84" fill="#0e6468"/>
<rect x="387.37" y="385.2" width="5.3" height="1.3" fill="#0e2a48"/>
<rect x="396.09" y="386.5" width="5.3" height="11.01" fill="#640a4e"/>
<rect x="396.09" y="397.51" width="5.3" height="8.34" fill="#a0205a"/>
<rect x="396.09" y="405.85" width="5.3" height="6.49" fill="#d85a60"/>
<rect x="396.09" y="412.34" width="5.3" height="5.56" fill="#ff6a45"/>
<rect x="396.09" y="417.9" width="5.3" height="9.73" fill="#ffaa88"/>
<rect x="396.09" y="427.63" width="5.3" height="12.98" fill="#ffe4d0"/>
<rect x="396.09" y="440.61" width="5.3" height="9.04" fill="#e8f8fa"/>
<rect x="396.09" y="449.65" width="5.3" height="24.1" fill="#ddddd5"/>
<rect x="396.09" y="473.75" width="5.3" height="4.29" fill="#88cc99"/>
<rect x="396.09" y="478.03" width="5.3" height="6.03" fill="#159e80"/>
<rect x="396.09" y="484.06" width="5.3" height="5.79" fill="#0e6468"/>
<rect x="396.09" y="489.85" width="5.3" height="12.4" fill="#0e2a48"/>
<rect x="396.09" y="332.07" width="5.3" height="5.18" fill="#640a4e"/>
<rect x="396.09" y="337.24" width="5.3" height="3.92" fill="#a0205a"/>
<rect x="396.09" y="341.17" width="5.3" height="3.05" fill="#d85a60"/>
<rect x="396.09" y="344.22" width="5.3" height="2.62" fill="#ff6a45"/>
<rect x="396.09" y="346.83" width="5.3" height="4.58" fill="#ffaa88"/>
<rect x="396.09" y="351.41" width="5.3" height="6.1" fill="#ffe4d0"/>
<rect x="396.09" y="357.51" width="5.3" height="4.25" fill="#e8f8fa"/>
<rect x="396.09" y="361.76" width="5.3" height="11.33" fill="#ddddd5"/>
<rect x="396.09" y="373.1" width="5.3" height="2.02" fill="#88cc99"/>
<rect x="396.09" y="375.11" width="5.3" height="2.83" fill="#159e80"/>
<rect x="396.09" y="377.95" width="5.3" height="2.72" fill="#0e6468"/>
<rect x="396.09" y="380.67" width="5.3" height="5.83" fill="#0e2a48"/>
<rect x="404.81" y="386.5" width="5.3" height="9.03" fill="#640a4e"/>
<rect x="404.81" y="395.53" width="5.3" height="7.18" fill="#a0205a"/>
<rect x="404.81" y="402.7" width="5.3" height="6.25" fill="#d85a60"/>
<rect x="404.81" y="408.96" width="5.3" height="4.98" fill="#ff6a45"/>
<rect x="404.81" y="413.93" width="5.3" height="7.64" fill="#ffaa88"/>
<rect x="404.81" y="421.57" width="5.3" height="7.18" fill="#ffe4d0"/>
<rect x="404.81" y="428.75" width="5.3" height="6.37" fill="#e8f8fa"/>
<rect x="404.81" y="435.11" width="5.3" height="38.31" fill="#ddddd5"/>
<rect x="404.81" y="473.43" width="5.3" height="4.28" fill="#88cc99"/>
<rect x="404.81" y="477.71" width="5.3" height="7.18" fill="#159e80"/>
<rect x="404.81" y="484.89" width="5.3" height="6.95" fill="#0e6468"/>
<rect x="404.81" y="491.83" width="5.3" height="10.42" fill="#0e2a48"/>
<rect x="404.81" y="284.74" width="5.3" height="7.94" fill="#640a4e"/>
<rect x="404.81" y="292.68" width="5.3" height="6.31" fill="#a0205a"/>
<rect x="404.81" y="298.99" width="5.3" height="5.5" fill="#d85a60"/>
<rect x="404.81" y="304.48" width="5.3" height="4.38" fill="#ff6a45"/>
<rect x="404.81" y="308.86" width="5.3" height="6.72" fill="#ffaa88"/>
<rect x="404.81" y="315.57" width="5.3" height="6.31" fill="#ffe4d0"/>
<rect x="404.81" y="321.88" width="5.3" height="5.6" fill="#e8f8fa"/>
<rect x="404.81" y="327.48" width="5.3" height="33.68" fill="#ddddd5"/>
<rect x="404.81" y="361.16" width="5.3" height="3.77" fill="#88cc99"/>
<rect x="404.81" y="364.93" width="5.3" height="6.31" fill="#159e80"/>
<rect x="404.81" y="371.24" width="5.3" height="6.11" fill="#0e6468"/>
<rect x="404.81" y="377.34" width="5.3" height="9.16" fill="#0e2a48"/>
<rect x="413.52" y="386.5" width="5.3" height="9.85" fill="#640a4e"/>
<rect x="413.52" y="396.35" width="5.3" height="12.17" fill="#a0205a"/>
<rect x="413.52" y="408.51" width="5.3" height="9.39" fill="#d85a60"/>
<rect x="413.52" y="417.9" width="5.3" height="4.87" fill="#ff6a45"/>
<rect x="413.52" y="422.77" width="5.3" height="7.99" fill="#ffaa88"/>
<rect x="413.52" y="430.76" width="5.3" height="7.76" fill="#ffe4d0"/>
<rect x="413.52" y="438.52" width="5.3" height="8.11" fill="#e8f8fa"/>
<rect x="413.52" y="446.63" width="5.3" height="28.5" fill="#ddddd5"/>
<rect x="413.52" y="475.14" width="5.3" height="5.56" fill="#88cc99"/>
<rect x="413.52" y="480.7" width="5.3" height="5.33" fill="#159e80"/>
<rect x="413.52" y="486.03" width="5.3" height="6.14" fill="#0e6468"/>
<rect x="413.52" y="492.17" width="5.3" height="10.08" fill="#0e2a48"/>
<rect x="413.52" y="328.9" width="5.3" height="4.9" fill="#640a4e"/>
<rect x="413.52" y="333.8" width="5.3" height="6.05" fill="#a0205a"/>
<rect x="413.52" y="339.85" width="5.3" height="4.67" fill="#d85a60"/>
<rect x="413.52" y="344.53" width="5.3" height="2.42" fill="#ff6a45"/>
<rect x="413.52" y="346.95" width="5.3" height="3.98" fill="#ffaa88"/>
<rect x="413.52" y="350.93" width="5.3" height="3.86" fill="#ffe4d0"/>
<rect x="413.52" y="354.79" width="5.3" height="4.04" fill="#e8f8fa"/>
<rect x="413.52" y="358.82" width="5.3" height="14.18" fill="#ddddd5"/>
<rect x="413.52" y="373.01" width="5.3" height="2.77" fill="#88cc99"/>
<rect x="413.52" y="375.78" width="5.3" height="2.65" fill="#159e80"/>
<rect x="413.52" y="378.43" width="5.3" height="3.06" fill="#0e6468"/>
<rect x="413.52" y="381.48" width="5.3" height="5.02" fill="#0e2a48"/>
</g>
<rect x="263.7" y="271.3" width="156.6" height="230.95" fill="none" stroke="#6e6e6e" stroke-width="1"/>
<line x1="263.7" y1="386.5" x2="420.3" y2="386.5" stroke="#181818" stroke-width="0.65"/>
<path d="M261.5 367.3H263.7 M261.5 348.1H263.7 M261.5 328.9H263.7 M261.5 309.7H263.7 M261.5 290.5H263.7 M261.5 271.3H263.7 M262.4 376.9H263.7 M262.4 357.7H263.7 M262.4 338.5H263.7 M262.4 319.3H263.7 M262.4 300.1H263.7 M262.4 280.9H263.7 M261.5 502.25H263.7 M261.5 479.1H263.7 M261.5 455.95H263.7 M261.5 432.8H263.7 M261.5 409.65H263.7 M262.4 490.68H263.7 M262.4 467.52H263.7 M262.4 444.38H263.7 M262.4 421.23H263.7 M262.4 398.07H263.7 M268 502.25v2 M276.72 502.25v2 M285.43 502.25v2 M294.15 502.25v2 M302.86 502.25v2 M311.58 502.25v2 M320.3 502.25v2 M329.01 502.25v2 M337.73 502.25v2 M346.44 502.25v2 M355.16 502.25v2 M363.88 502.25v2 M372.59 502.25v2 M381.31 502.25v2 M390.02 502.25v2 M398.74 502.25v2 M407.46 502.25v2 M416.17 502.25v2" stroke="#444" stroke-width="0.7" fill="none"/>
<g font-size="5.8" text-anchor="end" fill="#222" stroke="#222" stroke-width="0.05">
<text x="259.9" y="369.15">2</text>
<text x="259.9" y="349.95">4</text>
<text x="259.9" y="330.75">6</text>
<text x="259.9" y="311.55">8</text>
<text x="259.9" y="292.35">10</text>
<text x="259.9" y="273.15">12</text>
<text x="259.9" y="504.1">0</text>
<text x="259.9" y="480.95">20</text>
<text x="259.9" y="457.8">40</text>
<text x="259.9" y="434.65">60</text>
<text x="259.9" y="411.5">80</text>
<text x="259.9" y="388.35">100</text>
</g>
<text transform="translate(247.5 328.9) rotate(-90)" font-size="7" text-anchor="middle" fill="#2a2a2a">Nitrated-PAHs concentration (ng/m<tspan font-size="4.5" dy="-2.4">3</tspan><tspan dy="2.4">)</tspan></text>
<text transform="translate(247.5 444.38) rotate(-90)" font-size="7" text-anchor="middle" fill="#2a2a2a">Percentage (%)</text>
<text x="272.2" y="286.5" font-size="9.3" fill="#111">(d)</text>
<g font-size="4.55" font-weight="bold" text-anchor="end" fill="#151515" stroke="#151515" stroke-width="0.05">
<text transform="translate(271 508.05) rotate(-45)">15 March 2022 day</text>
<text transform="translate(279.72 508.05) rotate(-45)">15 March 2022 night</text>
<text transform="translate(288.43 508.05) rotate(-45)">16 March 2022 day</text>
<text transform="translate(297.15 508.05) rotate(-45)">16 March 2022 night</text>
<text transform="translate(305.86 508.05) rotate(-45)">17 March 2022 day</text>
<text transform="translate(314.58 508.05) rotate(-45)">17 March 2022 night</text>
<text transform="translate(323.3 508.05) rotate(-45)">18 March 2022 day</text>
<text transform="translate(332.01 508.05) rotate(-45)">18 March 2022 night</text>
<text transform="translate(340.73 508.05) rotate(-45)">19 March 2022 day</text>
<text transform="translate(349.44 508.05) rotate(-45)">19 March 2022 night</text>
<text transform="translate(358.16 508.05) rotate(-45)">20 March 2022 day</text>
<text transform="translate(366.88 508.05) rotate(-45)">20 March 2022 night</text>
<text transform="translate(375.59 508.05) rotate(-45)">21 March 2022 day</text>
<text transform="translate(384.31 508.05) rotate(-45)">21 March 2022 night</text>
<text transform="translate(393.02 508.05) rotate(-45)">22 March 2022 day</text>
<text transform="translate(401.74 508.05) rotate(-45)">22 March 2022 night</text>
<text transform="translate(410.46 508.05) rotate(-45)">23 March 2022 day</text>
<text transform="translate(419.17 508.05) rotate(-45)">23 March 2022 night</text>
</g>
<text x="342.5" y="546" font-size="7" text-anchor="middle" fill="#2a2a2a">Time</text>
<g font-size="5.85" fill="#111">
<rect x="428.4" y="343.85" width="13.1" height="5.9" fill="#640a4e" stroke="#a8a8a8" stroke-width="0.5"/>
<text x="443" y="348.65" stroke="#111" stroke-width="0.12">6N-BaP</text>
<rect x="428.4" y="351.1" width="13.1" height="5.9" fill="#a0205a" stroke="#a8a8a8" stroke-width="0.5"/>
<text x="443" y="355.9" stroke="#111" stroke-width="0.12">1,6-DNP</text>
<rect x="428.4" y="358.35" width="13.1" height="5.9" fill="#d85a60" stroke="#a8a8a8" stroke-width="0.5"/>
<text x="443" y="363.15" stroke="#111" stroke-width="0.12">1,3-DNP</text>
<rect x="428.4" y="365.6" width="13.1" height="5.9" fill="#ff6a45" stroke="#a8a8a8" stroke-width="0.5"/>
<text x="443" y="370.4" stroke="#111" stroke-width="0.12">6N-CHR</text>
<rect x="428.4" y="372.85" width="13.1" height="5.9" fill="#ffaa88" stroke="#a8a8a8" stroke-width="0.5"/>
<text x="443" y="377.65" stroke="#111" stroke-width="0.12">2,7DN-FLO</text>
<rect x="428.4" y="380.1" width="13.1" height="5.9" fill="#ffe4d0" stroke="#a8a8a8" stroke-width="0.5"/>
<text x="443" y="384.9" stroke="#111" stroke-width="0.12">1N-PYR</text>
<rect x="428.4" y="387.35" width="13.1" height="5.9" fill="#e8f8fa" stroke="#a8a8a8" stroke-width="0.5"/>
<text x="443" y="392.15" stroke="#111" stroke-width="0.12">3N-FLA</text>
<rect x="428.4" y="394.6" width="13.1" height="5.9" fill="#ddddd5" stroke="#a8a8a8" stroke-width="0.5"/>
<text x="443" y="399.4" stroke="#111" stroke-width="0.12">9N-ANT</text>
<rect x="428.4" y="401.85" width="13.1" height="5.9" fill="#88cc99" stroke="#a8a8a8" stroke-width="0.5"/>
<text x="443" y="406.65" stroke="#111" stroke-width="0.12">9N-PHE</text>
<rect x="428.4" y="409.1" width="13.1" height="5.9" fill="#159e80" stroke="#a8a8a8" stroke-width="0.5"/>
<text x="443" y="413.9" stroke="#111" stroke-width="0.12">2N-FLO</text>
<rect x="428.4" y="416.35" width="13.1" height="5.9" fill="#0e6468" stroke="#a8a8a8" stroke-width="0.5"/>
<text x="443" y="421.15" stroke="#111" stroke-width="0.12">5N-ACE</text>
<rect x="428.4" y="423.6" width="13.1" height="5.9" fill="#0e2a48" stroke="#a8a8a8" stroke-width="0.5"/>
<text x="443" y="428.4" stroke="#111" stroke-width="0.12">2N-BIP</text>
</g>
</svg>
</body></html>
